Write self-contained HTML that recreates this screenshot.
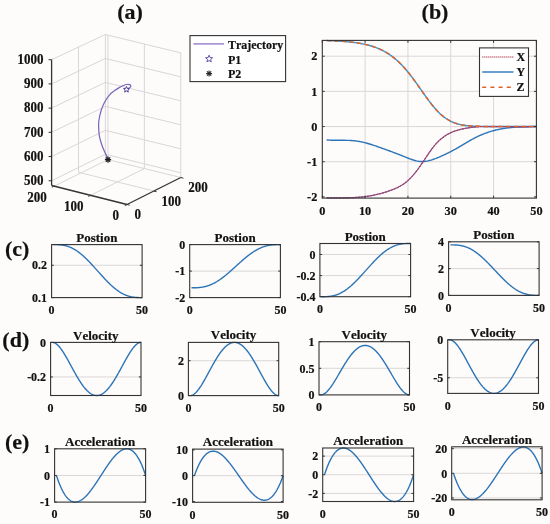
<!DOCTYPE html>
<html><head><meta charset="utf-8"><title>Trajectory figure</title>
<style>html,body{margin:0;padding:0;background:#fdfcfa;}svg{display:block;font-kerning:none;filter:blur(0.3px);}</style>
</head><body>
<svg width="550" height="524" viewBox="0 0 550 524" font-family="'Liberation Serif', 'Times New Roman', serif">
<rect width="550" height="524" fill="#fdfcfa"/>
<line x1="51.6" y1="265.28" x2="142.1" y2="265.28" stroke="#dbd7d7" stroke-width="1"/>
<path d="M53.41 244.6 L53.86 244.6 L54.3 244.6 L54.75 244.6 L55.19 244.6 L55.64 244.61 L56.08 244.61 L56.53 244.62 L56.98 244.63 L57.42 244.65 L57.87 244.66 L58.31 244.68 L58.76 244.71 L59.2 244.73 L59.65 244.77 L60.1 244.8 L60.54 244.84 L60.99 244.89 L61.43 244.94 L61.88 245 L62.32 245.06 L62.77 245.13 L63.21 245.2 L63.66 245.28 L64.11 245.37 L64.55 245.46 L65 245.56 L65.44 245.67 L65.89 245.78 L66.33 245.9 L66.78 246.03 L67.23 246.16 L67.67 246.31 L68.12 246.46 L68.56 246.61 L69.01 246.78 L69.45 246.95 L69.9 247.13 L70.35 247.31 L70.79 247.51 L71.24 247.71 L71.68 247.92 L72.13 248.14 L72.57 248.36 L73.02 248.6 L73.47 248.84 L73.91 249.09 L74.36 249.34 L74.8 249.61 L75.25 249.88 L75.69 250.16 L76.14 250.44 L76.59 250.74 L77.03 251.04 L77.48 251.35 L77.92 251.66 L78.37 251.99 L78.81 252.32 L79.26 252.65 L79.71 253 L80.15 253.35 L80.6 253.71 L81.04 254.07 L81.49 254.44 L81.93 254.82 L82.38 255.2 L82.82 255.59 L83.27 255.99 L83.72 256.39 L84.16 256.8 L84.61 257.21 L85.05 257.63 L85.5 258.05 L85.94 258.48 L86.39 258.91 L86.84 259.35 L87.28 259.79 L87.73 260.24 L88.17 260.69 L88.62 261.15 L89.06 261.61 L89.51 262.07 L89.96 262.54 L90.4 263.01 L90.85 263.48 L91.29 263.96 L91.74 264.44 L92.18 264.92 L92.63 265.41 L93.08 265.9 L93.52 266.38 L93.97 266.88 L94.41 267.37 L94.86 267.86 L95.3 268.36 L95.75 268.86 L96.2 269.35 L96.64 269.85 L97.09 270.35 L97.53 270.85 L97.98 271.35 L98.42 271.85 L98.87 272.35 L99.31 272.85 L99.76 273.34 L100.21 273.84 L100.65 274.34 L101.1 274.83 L101.54 275.32 L101.99 275.82 L102.43 276.3 L102.88 276.79 L103.33 277.28 L103.77 277.76 L104.22 278.24 L104.66 278.72 L105.11 279.19 L105.55 279.66 L106 280.13 L106.45 280.59 L106.89 281.05 L107.34 281.51 L107.78 281.96 L108.23 282.41 L108.67 282.85 L109.12 283.29 L109.57 283.72 L110.01 284.15 L110.46 284.57 L110.9 284.99 L111.35 285.4 L111.79 285.81 L112.24 286.21 L112.69 286.61 L113.13 287 L113.58 287.38 L114.02 287.76 L114.47 288.13 L114.91 288.49 L115.36 288.85 L115.8 289.2 L116.25 289.55 L116.7 289.88 L117.14 290.21 L117.59 290.54 L118.03 290.85 L118.48 291.16 L118.92 291.46 L119.37 291.76 L119.82 292.04 L120.26 292.32 L120.71 292.59 L121.15 292.86 L121.6 293.11 L122.04 293.36 L122.49 293.6 L122.94 293.84 L123.38 294.06 L123.83 294.28 L124.27 294.49 L124.72 294.69 L125.16 294.89 L125.61 295.07 L126.06 295.25 L126.5 295.42 L126.95 295.59 L127.39 295.74 L127.84 295.89 L128.28 296.04 L128.73 296.17 L129.18 296.3 L129.62 296.42 L130.07 296.53 L130.51 296.64 L130.96 296.74 L131.4 296.83 L131.85 296.92 L132.3 297 L132.74 297.07 L133.19 297.14 L133.63 297.2 L134.08 297.26 L134.52 297.31 L134.97 297.36 L135.41 297.4 L135.86 297.43 L136.31 297.47 L136.75 297.49 L137.2 297.52 L137.64 297.54 L138.09 297.55 L138.53 297.57 L138.98 297.58 L139.43 297.59 L139.87 297.59 L140.32 297.6 L140.76 297.6 L141.21 297.6 L141.65 297.6 L142.1 297.6" fill="none" stroke="#2c74b8" stroke-width="1.4" stroke-linejoin="round" />
<rect x="51.6" y="244.6" width="90.5" height="53" fill="none" stroke="#333333" stroke-width="1.1"/>
<line x1="51.6" y1="297.6" x2="53.8" y2="297.6" stroke="#333333" stroke-width="1"/>
<line x1="142.1" y1="297.6" x2="139.9" y2="297.6" stroke="#333333" stroke-width="1"/>
<line x1="51.6" y1="265.28" x2="53.8" y2="265.28" stroke="#333333" stroke-width="1"/>
<line x1="142.1" y1="265.28" x2="139.9" y2="265.28" stroke="#333333" stroke-width="1"/>
<text transform="translate(47.1 301.8) scale(1 1.07)" font-size="12" text-anchor="end" font-weight="bold" fill="#111111" stroke="#111111" stroke-width="0.2" >0.1</text>
<text transform="translate(47.1 269.48) scale(1 1.07)" font-size="12" text-anchor="end" font-weight="bold" fill="#111111" stroke="#111111" stroke-width="0.2" >0.2</text>
<text transform="translate(51.6 313.9) scale(1 1.07)" font-size="12" text-anchor="middle" font-weight="bold" fill="#111111" stroke="#111111" stroke-width="0.2" >0</text>
<text transform="translate(142.1 313.9) scale(1 1.07)" font-size="12" text-anchor="middle" font-weight="bold" fill="#111111" stroke="#111111" stroke-width="0.2" >50</text>
<text transform="translate(96.85 241.9) scale(1 1.0)" font-size="13" text-anchor="middle" font-weight="bold" fill="#111111" stroke="#111111" stroke-width="0.2" >Postion</text>
<line x1="189.7" y1="271.1" x2="280.4" y2="271.1" stroke="#dbd7d7" stroke-width="1"/>
<path d="M191.51 287.8 L191.96 287.79 L192.41 287.79 L192.85 287.79 L193.3 287.79 L193.75 287.79 L194.19 287.78 L194.64 287.78 L195.09 287.77 L195.53 287.76 L195.98 287.74 L196.43 287.73 L196.87 287.71 L197.32 287.69 L197.77 287.66 L198.21 287.63 L198.66 287.6 L199.11 287.56 L199.55 287.52 L200 287.47 L200.45 287.42 L200.89 287.36 L201.34 287.3 L201.79 287.24 L202.23 287.17 L202.68 287.09 L203.13 287.01 L203.57 286.92 L204.02 286.83 L204.47 286.73 L204.91 286.63 L205.36 286.52 L205.81 286.4 L206.25 286.28 L206.7 286.16 L207.15 286.02 L207.59 285.88 L208.04 285.74 L208.49 285.58 L208.93 285.42 L209.38 285.26 L209.83 285.09 L210.27 284.91 L210.72 284.73 L211.17 284.54 L211.61 284.34 L212.06 284.14 L212.51 283.93 L212.95 283.71 L213.4 283.49 L213.85 283.27 L214.29 283.03 L214.74 282.79 L215.19 282.55 L215.63 282.3 L216.08 282.04 L216.53 281.77 L216.97 281.51 L217.42 281.23 L217.87 280.95 L218.31 280.66 L218.76 280.37 L219.21 280.08 L219.65 279.77 L220.1 279.47 L220.55 279.15 L220.99 278.84 L221.44 278.51 L221.89 278.19 L222.33 277.85 L222.78 277.52 L223.23 277.18 L223.67 276.83 L224.12 276.48 L224.57 276.13 L225.01 275.77 L225.46 275.41 L225.91 275.05 L226.35 274.68 L226.8 274.31 L227.25 273.93 L227.69 273.56 L228.14 273.17 L228.59 272.79 L229.03 272.4 L229.48 272.02 L229.93 271.62 L230.37 271.23 L230.82 270.84 L231.27 270.44 L231.71 270.04 L232.16 269.64 L232.61 269.24 L233.05 268.84 L233.5 268.43 L233.95 268.03 L234.39 267.62 L234.84 267.21 L235.29 266.81 L235.73 266.4 L236.18 265.99 L236.63 265.59 L237.07 265.18 L237.52 264.77 L237.97 264.37 L238.41 263.96 L238.86 263.56 L239.31 263.16 L239.75 262.75 L240.2 262.35 L240.65 261.96 L241.09 261.56 L241.54 261.16 L241.99 260.77 L242.43 260.38 L242.88 259.99 L243.33 259.6 L243.77 259.22 L244.22 258.84 L244.67 258.46 L245.11 258.09 L245.56 257.72 L246.01 257.35 L246.45 256.98 L246.9 256.62 L247.35 256.26 L247.79 255.91 L248.24 255.56 L248.69 255.22 L249.13 254.88 L249.58 254.54 L250.03 254.21 L250.47 253.88 L250.92 253.56 L251.37 253.24 L251.81 252.93 L252.26 252.62 L252.71 252.32 L253.15 252.02 L253.6 251.73 L254.05 251.44 L254.49 251.16 L254.94 250.89 L255.39 250.62 L255.83 250.36 L256.28 250.1 L256.73 249.85 L257.17 249.6 L257.62 249.36 L258.07 249.13 L258.51 248.9 L258.96 248.68 L259.41 248.47 L259.85 248.26 L260.3 248.05 L260.75 247.86 L261.19 247.67 L261.64 247.48 L262.09 247.31 L262.53 247.14 L262.98 246.97 L263.43 246.81 L263.87 246.66 L264.32 246.51 L264.77 246.37 L265.21 246.24 L265.66 246.11 L266.11 245.99 L266.55 245.88 L267 245.77 L267.45 245.66 L267.89 245.56 L268.34 245.47 L268.79 245.38 L269.23 245.3 L269.68 245.23 L270.13 245.16 L270.57 245.09 L271.02 245.03 L271.47 244.98 L271.91 244.92 L272.36 244.88 L272.81 244.84 L273.25 244.8 L273.7 244.76 L274.15 244.73 L274.59 244.71 L275.04 244.69 L275.49 244.67 L275.93 244.65 L276.38 244.64 L276.83 244.63 L277.27 244.62 L277.72 244.61 L278.17 244.61 L278.61 244.6 L279.06 244.6 L279.51 244.6 L279.95 244.6 L280.4 244.6" fill="none" stroke="#2c74b8" stroke-width="1.4" stroke-linejoin="round" />
<rect x="189.7" y="244.6" width="90.7" height="53" fill="none" stroke="#333333" stroke-width="1.1"/>
<line x1="189.7" y1="297.6" x2="191.9" y2="297.6" stroke="#333333" stroke-width="1"/>
<line x1="280.4" y1="297.6" x2="278.2" y2="297.6" stroke="#333333" stroke-width="1"/>
<line x1="189.7" y1="271.1" x2="191.9" y2="271.1" stroke="#333333" stroke-width="1"/>
<line x1="280.4" y1="271.1" x2="278.2" y2="271.1" stroke="#333333" stroke-width="1"/>
<line x1="189.7" y1="244.6" x2="191.9" y2="244.6" stroke="#333333" stroke-width="1"/>
<line x1="280.4" y1="244.6" x2="278.2" y2="244.6" stroke="#333333" stroke-width="1"/>
<text transform="translate(185.2 301.8) scale(1 1.07)" font-size="12" text-anchor="end" font-weight="bold" fill="#111111" stroke="#111111" stroke-width="0.2" >-2</text>
<text transform="translate(185.2 275.3) scale(1 1.07)" font-size="12" text-anchor="end" font-weight="bold" fill="#111111" stroke="#111111" stroke-width="0.2" >-1</text>
<text transform="translate(185.2 248.8) scale(1 1.07)" font-size="12" text-anchor="end" font-weight="bold" fill="#111111" stroke="#111111" stroke-width="0.2" >0</text>
<text transform="translate(189.7 313.9) scale(1 1.07)" font-size="12" text-anchor="middle" font-weight="bold" fill="#111111" stroke="#111111" stroke-width="0.2" >0</text>
<text transform="translate(280.4 313.9) scale(1 1.07)" font-size="12" text-anchor="middle" font-weight="bold" fill="#111111" stroke="#111111" stroke-width="0.2" >50</text>
<text transform="translate(235.05 241.9) scale(1 1.0)" font-size="13" text-anchor="middle" font-weight="bold" fill="#111111" stroke="#111111" stroke-width="0.2" >Postion</text>
<line x1="319.9" y1="275.59" x2="410.6" y2="275.59" stroke="#dbd7d7" stroke-width="1"/>
<line x1="319.9" y1="254.48" x2="410.6" y2="254.48" stroke="#dbd7d7" stroke-width="1"/>
<path d="M321.71 296.7 L322.16 296.7 L322.61 296.7 L323.05 296.7 L323.5 296.7 L323.95 296.69 L324.39 296.69 L324.84 296.68 L325.29 296.67 L325.73 296.65 L326.18 296.64 L326.63 296.62 L327.07 296.59 L327.52 296.57 L327.97 296.53 L328.41 296.5 L328.86 296.46 L329.31 296.41 L329.75 296.36 L330.2 296.3 L330.65 296.24 L331.09 296.17 L331.54 296.1 L331.99 296.01 L332.43 295.93 L332.88 295.83 L333.33 295.73 L333.77 295.63 L334.22 295.51 L334.67 295.39 L335.11 295.26 L335.56 295.13 L336.01 294.99 L336.45 294.84 L336.9 294.68 L337.35 294.52 L337.79 294.34 L338.24 294.16 L338.69 293.98 L339.13 293.78 L339.58 293.58 L340.03 293.37 L340.47 293.15 L340.92 292.92 L341.37 292.69 L341.81 292.45 L342.26 292.2 L342.71 291.94 L343.15 291.67 L343.6 291.4 L344.05 291.12 L344.49 290.83 L344.94 290.54 L345.39 290.24 L345.83 289.93 L346.28 289.61 L346.73 289.29 L347.17 288.95 L347.62 288.62 L348.07 288.27 L348.51 287.92 L348.96 287.56 L349.41 287.19 L349.85 286.82 L350.3 286.44 L350.75 286.06 L351.19 285.67 L351.64 285.27 L352.09 284.87 L352.53 284.46 L352.98 284.04 L353.43 283.62 L353.87 283.2 L354.32 282.77 L354.77 282.33 L355.21 281.89 L355.66 281.45 L356.11 281 L356.55 280.55 L357 280.09 L357.45 279.63 L357.89 279.16 L358.34 278.69 L358.79 278.22 L359.23 277.74 L359.68 277.27 L360.13 276.78 L360.57 276.3 L361.02 275.81 L361.47 275.32 L361.91 274.83 L362.36 274.34 L362.81 273.85 L363.25 273.35 L363.7 272.85 L364.15 272.35 L364.59 271.85 L365.04 271.35 L365.49 270.85 L365.93 270.35 L366.38 269.85 L366.83 269.35 L367.27 268.85 L367.72 268.35 L368.17 267.85 L368.61 267.35 L369.06 266.85 L369.51 266.35 L369.95 265.86 L370.4 265.37 L370.85 264.88 L371.29 264.39 L371.74 263.9 L372.19 263.42 L372.63 262.93 L373.08 262.46 L373.53 261.98 L373.97 261.51 L374.42 261.04 L374.87 260.57 L375.31 260.11 L375.76 259.65 L376.21 259.2 L376.65 258.75 L377.1 258.31 L377.55 257.87 L377.99 257.43 L378.44 257 L378.89 256.58 L379.33 256.16 L379.78 255.74 L380.23 255.33 L380.67 254.93 L381.12 254.53 L381.57 254.14 L382.01 253.76 L382.46 253.38 L382.91 253.01 L383.35 252.64 L383.8 252.28 L384.25 251.93 L384.69 251.58 L385.14 251.25 L385.59 250.91 L386.03 250.59 L386.48 250.27 L386.93 249.96 L387.37 249.66 L387.82 249.37 L388.27 249.08 L388.71 248.8 L389.16 248.53 L389.61 248.26 L390.05 248 L390.5 247.75 L390.95 247.51 L391.39 247.28 L391.84 247.05 L392.29 246.83 L392.73 246.62 L393.18 246.42 L393.63 246.22 L394.07 246.04 L394.52 245.86 L394.97 245.68 L395.41 245.52 L395.86 245.36 L396.31 245.21 L396.75 245.07 L397.2 244.94 L397.65 244.81 L398.09 244.69 L398.54 244.57 L398.99 244.47 L399.43 244.37 L399.88 244.27 L400.33 244.19 L400.77 244.1 L401.22 244.03 L401.67 243.96 L402.11 243.9 L402.56 243.84 L403.01 243.79 L403.45 243.74 L403.9 243.7 L404.35 243.67 L404.79 243.63 L405.24 243.61 L405.69 243.58 L406.13 243.56 L406.58 243.55 L407.03 243.53 L407.47 243.52 L407.92 243.51 L408.37 243.51 L408.81 243.5 L409.26 243.5 L409.71 243.5 L410.15 243.5 L410.6 243.5" fill="none" stroke="#2c74b8" stroke-width="1.4" stroke-linejoin="round" />
<rect x="319.9" y="243.5" width="90.7" height="53.2" fill="none" stroke="#333333" stroke-width="1.1"/>
<line x1="319.9" y1="296.7" x2="322.1" y2="296.7" stroke="#333333" stroke-width="1"/>
<line x1="410.6" y1="296.7" x2="408.4" y2="296.7" stroke="#333333" stroke-width="1"/>
<line x1="319.9" y1="275.59" x2="322.1" y2="275.59" stroke="#333333" stroke-width="1"/>
<line x1="410.6" y1="275.59" x2="408.4" y2="275.59" stroke="#333333" stroke-width="1"/>
<line x1="319.9" y1="254.48" x2="322.1" y2="254.48" stroke="#333333" stroke-width="1"/>
<line x1="410.6" y1="254.48" x2="408.4" y2="254.48" stroke="#333333" stroke-width="1"/>
<text transform="translate(315.4 300.9) scale(1 1.07)" font-size="12" text-anchor="end" font-weight="bold" fill="#111111" stroke="#111111" stroke-width="0.2" >-0.4</text>
<text transform="translate(315.4 279.79) scale(1 1.07)" font-size="12" text-anchor="end" font-weight="bold" fill="#111111" stroke="#111111" stroke-width="0.2" >-0.2</text>
<text transform="translate(315.4 258.68) scale(1 1.07)" font-size="12" text-anchor="end" font-weight="bold" fill="#111111" stroke="#111111" stroke-width="0.2" >0</text>
<text transform="translate(319.9 313) scale(1 1.07)" font-size="12" text-anchor="middle" font-weight="bold" fill="#111111" stroke="#111111" stroke-width="0.2" >0</text>
<text transform="translate(410.6 313) scale(1 1.07)" font-size="12" text-anchor="middle" font-weight="bold" fill="#111111" stroke="#111111" stroke-width="0.2" >50</text>
<text transform="translate(365.25 240.9) scale(1 1.0)" font-size="13" text-anchor="middle" font-weight="bold" fill="#111111" stroke="#111111" stroke-width="0.2" >Postion</text>
<line x1="448.6" y1="268.6" x2="539.1" y2="268.6" stroke="#dbd7d7" stroke-width="1"/>
<path d="M450.41 244.88 L450.86 244.88 L451.3 244.88 L451.75 244.88 L452.19 244.89 L452.64 244.89 L453.08 244.9 L453.53 244.9 L453.98 244.91 L454.42 244.93 L454.87 244.94 L455.31 244.96 L455.76 244.98 L456.2 245.01 L456.65 245.04 L457.1 245.07 L457.54 245.11 L457.99 245.16 L458.43 245.21 L458.88 245.26 L459.32 245.32 L459.77 245.39 L460.21 245.46 L460.66 245.53 L461.11 245.62 L461.55 245.7 L462 245.8 L462.44 245.9 L462.89 246.01 L463.33 246.12 L463.78 246.25 L464.23 246.37 L464.67 246.51 L465.12 246.65 L465.56 246.8 L466.01 246.96 L466.45 247.12 L466.9 247.29 L467.35 247.47 L467.79 247.65 L468.24 247.85 L468.68 248.05 L469.13 248.25 L469.57 248.47 L470.02 248.69 L470.47 248.92 L470.91 249.16 L471.36 249.4 L471.8 249.65 L472.25 249.91 L472.69 250.18 L473.14 250.45 L473.59 250.73 L474.03 251.02 L474.48 251.31 L474.92 251.61 L475.37 251.92 L475.81 252.24 L476.26 252.56 L476.71 252.89 L477.15 253.22 L477.6 253.56 L478.04 253.91 L478.49 254.26 L478.93 254.62 L479.38 254.99 L479.82 255.36 L480.27 255.74 L480.72 256.12 L481.16 256.51 L481.61 256.9 L482.05 257.3 L482.5 257.7 L482.94 258.11 L483.39 258.52 L483.84 258.94 L484.28 259.36 L484.73 259.79 L485.17 260.22 L485.62 260.66 L486.06 261.09 L486.51 261.54 L486.96 261.98 L487.4 262.43 L487.85 262.88 L488.29 263.34 L488.74 263.79 L489.18 264.25 L489.63 264.72 L490.08 265.18 L490.52 265.65 L490.97 266.11 L491.41 266.58 L491.86 267.06 L492.3 267.53 L492.75 268 L493.2 268.48 L493.64 268.95 L494.09 269.43 L494.53 269.9 L494.98 270.38 L495.42 270.85 L495.87 271.33 L496.31 271.81 L496.76 272.28 L497.21 272.75 L497.65 273.23 L498.1 273.7 L498.54 274.17 L498.99 274.64 L499.43 275.1 L499.88 275.57 L500.33 276.03 L500.77 276.49 L501.22 276.95 L501.66 277.4 L502.11 277.85 L502.55 278.3 L503 278.75 L503.45 279.19 L503.89 279.63 L504.34 280.06 L504.78 280.49 L505.23 280.92 L505.67 281.34 L506.12 281.76 L506.57 282.17 L507.01 282.58 L507.46 282.98 L507.9 283.38 L508.35 283.77 L508.79 284.16 L509.24 284.55 L509.69 284.92 L510.13 285.29 L510.58 285.66 L511.02 286.02 L511.47 286.37 L511.91 286.72 L512.36 287.06 L512.8 287.4 L513.25 287.72 L513.7 288.04 L514.14 288.36 L514.59 288.67 L515.03 288.97 L515.48 289.26 L515.92 289.55 L516.37 289.83 L516.82 290.1 L517.26 290.37 L517.71 290.63 L518.15 290.88 L518.6 291.12 L519.04 291.36 L519.49 291.59 L519.94 291.81 L520.38 292.03 L520.83 292.23 L521.27 292.43 L521.72 292.63 L522.16 292.81 L522.61 292.99 L523.06 293.16 L523.5 293.33 L523.95 293.48 L524.39 293.63 L524.84 293.77 L525.28 293.91 L525.73 294.04 L526.18 294.16 L526.62 294.27 L527.07 294.38 L527.51 294.48 L527.96 294.58 L528.4 294.67 L528.85 294.75 L529.3 294.83 L529.74 294.9 L530.19 294.96 L530.63 295.02 L531.08 295.08 L531.52 295.12 L531.97 295.17 L532.41 295.21 L532.86 295.24 L533.31 295.27 L533.75 295.3 L534.2 295.32 L534.64 295.34 L535.09 295.36 L535.53 295.37 L535.98 295.38 L536.43 295.39 L536.87 295.39 L537.32 295.4 L537.76 295.4 L538.21 295.4 L538.65 295.4 L539.1 295.4" fill="none" stroke="#2c74b8" stroke-width="1.4" stroke-linejoin="round" />
<rect x="448.6" y="241.8" width="90.5" height="53.6" fill="none" stroke="#333333" stroke-width="1.1"/>
<line x1="448.6" y1="295.4" x2="450.8" y2="295.4" stroke="#333333" stroke-width="1"/>
<line x1="539.1" y1="295.4" x2="536.9" y2="295.4" stroke="#333333" stroke-width="1"/>
<line x1="448.6" y1="268.6" x2="450.8" y2="268.6" stroke="#333333" stroke-width="1"/>
<line x1="539.1" y1="268.6" x2="536.9" y2="268.6" stroke="#333333" stroke-width="1"/>
<line x1="448.6" y1="241.8" x2="450.8" y2="241.8" stroke="#333333" stroke-width="1"/>
<line x1="539.1" y1="241.8" x2="536.9" y2="241.8" stroke="#333333" stroke-width="1"/>
<text transform="translate(444.1 299.6) scale(1 1.07)" font-size="12" text-anchor="end" font-weight="bold" fill="#111111" stroke="#111111" stroke-width="0.2" >0</text>
<text transform="translate(444.1 272.8) scale(1 1.07)" font-size="12" text-anchor="end" font-weight="bold" fill="#111111" stroke="#111111" stroke-width="0.2" >2</text>
<text transform="translate(444.1 246) scale(1 1.07)" font-size="12" text-anchor="end" font-weight="bold" fill="#111111" stroke="#111111" stroke-width="0.2" >4</text>
<text transform="translate(448.6 311.7) scale(1 1.07)" font-size="12" text-anchor="middle" font-weight="bold" fill="#111111" stroke="#111111" stroke-width="0.2" >0</text>
<text transform="translate(539.1 311.7) scale(1 1.07)" font-size="12" text-anchor="middle" font-weight="bold" fill="#111111" stroke="#111111" stroke-width="0.2" >50</text>
<text transform="translate(493.85 239.4) scale(1 1.0)" font-size="13" text-anchor="middle" font-weight="bold" fill="#111111" stroke="#111111" stroke-width="0.2" >Postion</text>
<line x1="50.6" y1="376.94" x2="141" y2="376.94" stroke="#dbd7d7" stroke-width="1"/>
<path d="M52.41 342.4 L52.85 342.42 L53.3 342.48 L53.74 342.59 L54.19 342.73 L54.63 342.91 L55.08 343.13 L55.52 343.38 L55.97 343.66 L56.41 343.98 L56.86 344.34 L57.31 344.72 L57.75 345.13 L58.2 345.57 L58.64 346.03 L59.09 346.53 L59.53 347.04 L59.98 347.59 L60.42 348.15 L60.87 348.74 L61.31 349.34 L61.76 349.97 L62.2 350.61 L62.65 351.28 L63.09 351.96 L63.54 352.65 L63.98 353.36 L64.43 354.08 L64.87 354.82 L65.32 355.57 L65.76 356.33 L66.21 357.09 L66.65 357.87 L67.1 358.66 L67.54 359.45 L67.99 360.25 L68.43 361.05 L68.88 361.86 L69.33 362.68 L69.77 363.49 L70.22 364.31 L70.66 365.13 L71.11 365.96 L71.55 366.78 L72 367.6 L72.44 368.42 L72.89 369.23 L73.33 370.05 L73.78 370.86 L74.22 371.67 L74.67 372.47 L75.11 373.26 L75.56 374.06 L76 374.84 L76.45 375.61 L76.89 376.38 L77.34 377.14 L77.78 377.89 L78.23 378.63 L78.67 379.36 L79.12 380.08 L79.56 380.79 L80.01 381.49 L80.45 382.17 L80.9 382.84 L81.35 383.5 L81.79 384.14 L82.24 384.77 L82.68 385.39 L83.13 385.99 L83.57 386.58 L84.02 387.14 L84.46 387.7 L84.91 388.23 L85.35 388.75 L85.8 389.26 L86.24 389.74 L86.69 390.21 L87.13 390.66 L87.58 391.09 L88.02 391.5 L88.47 391.89 L88.91 392.27 L89.36 392.62 L89.8 392.95 L90.25 393.27 L90.69 393.56 L91.14 393.84 L91.58 394.09 L92.03 394.32 L92.47 394.54 L92.92 394.73 L93.37 394.9 L93.81 395.05 L94.26 395.18 L94.7 395.28 L95.15 395.37 L95.59 395.43 L96.04 395.48 L96.48 395.5 L96.93 395.5 L97.37 395.48 L97.82 395.43 L98.26 395.37 L98.71 395.28 L99.15 395.18 L99.6 395.05 L100.04 394.9 L100.49 394.73 L100.93 394.54 L101.38 394.32 L101.82 394.09 L102.27 393.84 L102.71 393.56 L103.16 393.27 L103.6 392.95 L104.05 392.62 L104.49 392.27 L104.94 391.89 L105.39 391.5 L105.83 391.09 L106.28 390.66 L106.72 390.21 L107.17 389.74 L107.61 389.26 L108.06 388.75 L108.5 388.23 L108.95 387.7 L109.39 387.14 L109.84 386.58 L110.28 385.99 L110.73 385.39 L111.17 384.77 L111.62 384.14 L112.06 383.5 L112.51 382.84 L112.95 382.17 L113.4 381.49 L113.84 380.79 L114.29 380.08 L114.73 379.36 L115.18 378.63 L115.62 377.89 L116.07 377.14 L116.51 376.38 L116.96 375.61 L117.41 374.84 L117.85 374.06 L118.3 373.26 L118.74 372.47 L119.19 371.67 L119.63 370.86 L120.08 370.05 L120.52 369.23 L120.97 368.42 L121.41 367.6 L121.86 366.78 L122.3 365.96 L122.75 365.13 L123.19 364.31 L123.64 363.49 L124.08 362.68 L124.53 361.86 L124.97 361.05 L125.42 360.25 L125.86 359.45 L126.31 358.66 L126.75 357.87 L127.2 357.09 L127.64 356.33 L128.09 355.57 L128.53 354.82 L128.98 354.08 L129.43 353.36 L129.87 352.65 L130.32 351.96 L130.76 351.28 L131.21 350.61 L131.65 349.97 L132.1 349.34 L132.54 348.74 L132.99 348.15 L133.43 347.59 L133.88 347.04 L134.32 346.53 L134.77 346.03 L135.21 345.57 L135.66 345.13 L136.1 344.72 L136.55 344.34 L136.99 343.98 L137.44 343.66 L137.88 343.38 L138.33 343.13 L138.77 342.91 L139.22 342.73 L139.66 342.59 L140.11 342.48 L140.55 342.42 L141 342.4" fill="none" stroke="#2c74b8" stroke-width="1.4" stroke-linejoin="round" />
<rect x="50.6" y="342.4" width="90.4" height="53.1" fill="none" stroke="#333333" stroke-width="1.1"/>
<line x1="50.6" y1="376.94" x2="52.8" y2="376.94" stroke="#333333" stroke-width="1"/>
<line x1="141" y1="376.94" x2="138.8" y2="376.94" stroke="#333333" stroke-width="1"/>
<line x1="50.6" y1="342.4" x2="52.8" y2="342.4" stroke="#333333" stroke-width="1"/>
<line x1="141" y1="342.4" x2="138.8" y2="342.4" stroke="#333333" stroke-width="1"/>
<text transform="translate(46.1 381.14) scale(1 1.07)" font-size="12" text-anchor="end" font-weight="bold" fill="#111111" stroke="#111111" stroke-width="0.2" >-0.2</text>
<text transform="translate(46.1 346.6) scale(1 1.07)" font-size="12" text-anchor="end" font-weight="bold" fill="#111111" stroke="#111111" stroke-width="0.2" >0</text>
<text transform="translate(50.6 411.8) scale(1 1.07)" font-size="12" text-anchor="middle" font-weight="bold" fill="#111111" stroke="#111111" stroke-width="0.2" >0</text>
<text transform="translate(141 411.8) scale(1 1.07)" font-size="12" text-anchor="middle" font-weight="bold" fill="#111111" stroke="#111111" stroke-width="0.2" >50</text>
<text transform="translate(95.8 339.9) scale(1 1.0)" font-size="13" text-anchor="middle" font-weight="bold" fill="#111111" stroke="#111111" stroke-width="0.2" >Velocity</text>
<line x1="188.4" y1="360.71" x2="278.7" y2="360.71" stroke="#dbd7d7" stroke-width="1"/>
<path d="M190.21 395.6 L190.65 395.58 L191.1 395.52 L191.54 395.41 L191.98 395.27 L192.43 395.09 L192.87 394.87 L193.32 394.62 L193.76 394.33 L194.21 394.01 L194.65 393.66 L195.1 393.28 L195.54 392.87 L195.99 392.43 L196.43 391.96 L196.88 391.47 L197.32 390.95 L197.77 390.4 L198.21 389.84 L198.66 389.25 L199.1 388.64 L199.54 388.02 L199.99 387.37 L200.43 386.71 L200.88 386.03 L201.32 385.33 L201.77 384.62 L202.21 383.89 L202.66 383.16 L203.1 382.41 L203.55 381.65 L203.99 380.88 L204.44 380.1 L204.88 379.31 L205.33 378.52 L205.77 377.72 L206.21 376.91 L206.66 376.1 L207.1 375.28 L207.55 374.47 L207.99 373.64 L208.44 372.82 L208.88 372 L209.33 371.18 L209.77 370.35 L210.22 369.53 L210.66 368.71 L211.11 367.9 L211.55 367.09 L212 366.28 L212.44 365.47 L212.89 364.68 L213.33 363.89 L213.77 363.1 L214.22 362.32 L214.66 361.55 L215.11 360.79 L215.55 360.04 L216 359.3 L216.44 358.57 L216.89 357.85 L217.33 357.14 L217.78 356.44 L218.22 355.75 L218.67 355.08 L219.11 354.42 L219.56 353.78 L220 353.15 L220.45 352.53 L220.89 351.93 L221.33 351.34 L221.78 350.77 L222.22 350.22 L222.67 349.68 L223.11 349.16 L223.56 348.66 L224 348.17 L224.45 347.7 L224.89 347.25 L225.34 346.82 L225.78 346.41 L226.23 346.01 L226.67 345.64 L227.12 345.29 L227.56 344.95 L228 344.64 L228.45 344.34 L228.89 344.07 L229.34 343.81 L229.78 343.58 L230.23 343.37 L230.67 343.17 L231.12 343 L231.56 342.85 L232.01 342.72 L232.45 342.62 L232.9 342.53 L233.34 342.47 L233.79 342.42 L234.23 342.4 L234.68 342.4 L235.12 342.42 L235.56 342.47 L236.01 342.53 L236.45 342.62 L236.9 342.72 L237.34 342.85 L237.79 343 L238.23 343.17 L238.68 343.37 L239.12 343.58 L239.57 343.81 L240.01 344.07 L240.46 344.34 L240.9 344.64 L241.35 344.95 L241.79 345.29 L242.24 345.64 L242.68 346.01 L243.12 346.41 L243.57 346.82 L244.01 347.25 L244.46 347.7 L244.9 348.17 L245.35 348.66 L245.79 349.16 L246.24 349.68 L246.68 350.22 L247.13 350.77 L247.57 351.34 L248.02 351.93 L248.46 352.53 L248.91 353.15 L249.35 353.78 L249.79 354.42 L250.24 355.08 L250.68 355.75 L251.13 356.44 L251.57 357.14 L252.02 357.85 L252.46 358.57 L252.91 359.3 L253.35 360.04 L253.8 360.79 L254.24 361.55 L254.69 362.32 L255.13 363.1 L255.58 363.89 L256.02 364.68 L256.47 365.47 L256.91 366.28 L257.35 367.09 L257.8 367.9 L258.24 368.71 L258.69 369.53 L259.13 370.35 L259.58 371.18 L260.02 372 L260.47 372.82 L260.91 373.64 L261.36 374.47 L261.8 375.28 L262.25 376.1 L262.69 376.91 L263.14 377.72 L263.58 378.52 L264.03 379.31 L264.47 380.1 L264.91 380.88 L265.36 381.65 L265.8 382.41 L266.25 383.16 L266.69 383.89 L267.14 384.62 L267.58 385.33 L268.03 386.03 L268.47 386.71 L268.92 387.37 L269.36 388.02 L269.81 388.64 L270.25 389.25 L270.7 389.84 L271.14 390.4 L271.58 390.95 L272.03 391.47 L272.47 391.96 L272.92 392.43 L273.36 392.87 L273.81 393.28 L274.25 393.66 L274.7 394.01 L275.14 394.33 L275.59 394.62 L276.03 394.87 L276.48 395.09 L276.92 395.27 L277.37 395.41 L277.81 395.52 L278.26 395.58 L278.7 395.6" fill="none" stroke="#2c74b8" stroke-width="1.4" stroke-linejoin="round" />
<rect x="188.4" y="342.4" width="90.3" height="53.2" fill="none" stroke="#333333" stroke-width="1.1"/>
<line x1="188.4" y1="395.6" x2="190.6" y2="395.6" stroke="#333333" stroke-width="1"/>
<line x1="278.7" y1="395.6" x2="276.5" y2="395.6" stroke="#333333" stroke-width="1"/>
<line x1="188.4" y1="360.71" x2="190.6" y2="360.71" stroke="#333333" stroke-width="1"/>
<line x1="278.7" y1="360.71" x2="276.5" y2="360.71" stroke="#333333" stroke-width="1"/>
<text transform="translate(183.9 399.8) scale(1 1.07)" font-size="12" text-anchor="end" font-weight="bold" fill="#111111" stroke="#111111" stroke-width="0.2" >0</text>
<text transform="translate(183.9 364.91) scale(1 1.07)" font-size="12" text-anchor="end" font-weight="bold" fill="#111111" stroke="#111111" stroke-width="0.2" >2</text>
<text transform="translate(188.4 411.9) scale(1 1.07)" font-size="12" text-anchor="middle" font-weight="bold" fill="#111111" stroke="#111111" stroke-width="0.2" >0</text>
<text transform="translate(278.7 411.9) scale(1 1.07)" font-size="12" text-anchor="middle" font-weight="bold" fill="#111111" stroke="#111111" stroke-width="0.2" >50</text>
<text transform="translate(233.55 339.1) scale(1 1.0)" font-size="13" text-anchor="middle" font-weight="bold" fill="#111111" stroke="#111111" stroke-width="0.2" >Velocity</text>
<line x1="319" y1="368.3" x2="409.5" y2="368.3" stroke="#dbd7d7" stroke-width="1"/>
<path d="M320.81 394.9 L321.26 394.88 L321.7 394.82 L322.15 394.73 L322.59 394.59 L323.04 394.43 L323.48 394.22 L323.93 393.99 L324.38 393.72 L324.82 393.42 L325.27 393.1 L325.71 392.74 L326.16 392.36 L326.6 391.95 L327.05 391.51 L327.5 391.05 L327.94 390.57 L328.39 390.07 L328.83 389.54 L329.28 389 L329.72 388.43 L330.17 387.85 L330.61 387.25 L331.06 386.63 L331.51 386 L331.95 385.35 L332.4 384.69 L332.84 384.01 L333.29 383.33 L333.73 382.63 L334.18 381.92 L334.63 381.21 L335.07 380.48 L335.52 379.75 L335.96 379.01 L336.41 378.27 L336.85 377.52 L337.3 376.76 L337.75 376.01 L338.19 375.25 L338.64 374.48 L339.08 373.72 L339.53 372.95 L339.97 372.19 L340.42 371.42 L340.87 370.66 L341.31 369.9 L341.76 369.14 L342.2 368.38 L342.65 367.63 L343.09 366.88 L343.54 366.14 L343.99 365.41 L344.43 364.68 L344.88 363.95 L345.32 363.24 L345.77 362.53 L346.21 361.83 L346.66 361.14 L347.11 360.46 L347.55 359.79 L348 359.13 L348.44 358.48 L348.89 357.84 L349.33 357.22 L349.78 356.61 L350.22 356.01 L350.67 355.42 L351.12 354.84 L351.56 354.28 L352.01 353.74 L352.45 353.21 L352.9 352.69 L353.34 352.19 L353.79 351.71 L354.24 351.24 L354.68 350.79 L355.13 350.35 L355.57 349.94 L356.02 349.54 L356.46 349.15 L356.91 348.79 L357.36 348.44 L357.8 348.11 L358.25 347.8 L358.69 347.5 L359.14 347.23 L359.58 346.97 L360.03 346.74 L360.48 346.52 L360.92 346.32 L361.37 346.14 L361.81 345.98 L362.26 345.85 L362.7 345.73 L363.15 345.63 L363.6 345.55 L364.04 345.49 L364.49 345.45 L364.93 345.43 L365.38 345.43 L365.82 345.45 L366.27 345.49 L366.71 345.55 L367.16 345.63 L367.61 345.73 L368.05 345.85 L368.5 345.98 L368.94 346.14 L369.39 346.32 L369.83 346.52 L370.28 346.74 L370.73 346.97 L371.17 347.23 L371.62 347.5 L372.06 347.8 L372.51 348.11 L372.95 348.44 L373.4 348.79 L373.85 349.15 L374.29 349.54 L374.74 349.94 L375.18 350.35 L375.63 350.79 L376.07 351.24 L376.52 351.71 L376.97 352.19 L377.41 352.69 L377.86 353.21 L378.3 353.74 L378.75 354.28 L379.19 354.84 L379.64 355.42 L380.09 356.01 L380.53 356.61 L380.98 357.22 L381.42 357.84 L381.87 358.48 L382.31 359.13 L382.76 359.79 L383.2 360.46 L383.65 361.14 L384.1 361.83 L384.54 362.53 L384.99 363.24 L385.43 363.95 L385.88 364.68 L386.32 365.41 L386.77 366.14 L387.22 366.88 L387.66 367.63 L388.11 368.38 L388.55 369.14 L389 369.9 L389.44 370.66 L389.89 371.42 L390.34 372.19 L390.78 372.95 L391.23 373.72 L391.67 374.48 L392.12 375.25 L392.56 376.01 L393.01 376.76 L393.46 377.52 L393.9 378.27 L394.35 379.01 L394.79 379.75 L395.24 380.48 L395.68 381.21 L396.13 381.92 L396.58 382.63 L397.02 383.33 L397.47 384.01 L397.91 384.69 L398.36 385.35 L398.8 386 L399.25 386.63 L399.7 387.25 L400.14 387.85 L400.59 388.43 L401.03 389 L401.48 389.54 L401.92 390.07 L402.37 390.57 L402.81 391.05 L403.26 391.51 L403.71 391.95 L404.15 392.36 L404.6 392.74 L405.04 393.1 L405.49 393.42 L405.93 393.72 L406.38 393.99 L406.83 394.22 L407.27 394.43 L407.72 394.59 L408.16 394.73 L408.61 394.82 L409.05 394.88 L409.5 394.9" fill="none" stroke="#2c74b8" stroke-width="1.4" stroke-linejoin="round" />
<rect x="319" y="341.7" width="90.5" height="53.2" fill="none" stroke="#333333" stroke-width="1.1"/>
<line x1="319" y1="394.9" x2="321.2" y2="394.9" stroke="#333333" stroke-width="1"/>
<line x1="409.5" y1="394.9" x2="407.3" y2="394.9" stroke="#333333" stroke-width="1"/>
<line x1="319" y1="368.3" x2="321.2" y2="368.3" stroke="#333333" stroke-width="1"/>
<line x1="409.5" y1="368.3" x2="407.3" y2="368.3" stroke="#333333" stroke-width="1"/>
<line x1="319" y1="341.7" x2="321.2" y2="341.7" stroke="#333333" stroke-width="1"/>
<line x1="409.5" y1="341.7" x2="407.3" y2="341.7" stroke="#333333" stroke-width="1"/>
<text transform="translate(314.5 399.1) scale(1 1.07)" font-size="12" text-anchor="end" font-weight="bold" fill="#111111" stroke="#111111" stroke-width="0.2" >0</text>
<text transform="translate(314.5 372.5) scale(1 1.07)" font-size="12" text-anchor="end" font-weight="bold" fill="#111111" stroke="#111111" stroke-width="0.2" >0.5</text>
<text transform="translate(314.5 345.9) scale(1 1.07)" font-size="12" text-anchor="end" font-weight="bold" fill="#111111" stroke="#111111" stroke-width="0.2" >1</text>
<text transform="translate(319 411.2) scale(1 1.07)" font-size="12" text-anchor="middle" font-weight="bold" fill="#111111" stroke="#111111" stroke-width="0.2" >0</text>
<text transform="translate(409.5 411.2) scale(1 1.07)" font-size="12" text-anchor="middle" font-weight="bold" fill="#111111" stroke="#111111" stroke-width="0.2" >50</text>
<text transform="translate(364.25 338.6) scale(1 1.0)" font-size="13" text-anchor="middle" font-weight="bold" fill="#111111" stroke="#111111" stroke-width="0.2" >Velocity</text>
<line x1="447.7" y1="377.76" x2="538.5" y2="377.76" stroke="#dbd7d7" stroke-width="1"/>
<path d="M449.52 339.8 L449.96 339.82 L450.41 339.88 L450.86 339.99 L451.3 340.13 L451.75 340.31 L452.2 340.53 L452.65 340.79 L453.09 341.08 L453.54 341.4 L453.99 341.75 L454.43 342.14 L454.88 342.55 L455.33 343 L455.78 343.47 L456.22 343.97 L456.67 344.49 L457.12 345.03 L457.56 345.6 L458.01 346.2 L458.46 346.81 L458.91 347.44 L459.35 348.09 L459.8 348.76 L460.25 349.45 L460.69 350.15 L461.14 350.86 L461.59 351.59 L462.04 352.34 L462.48 353.09 L462.93 353.86 L463.38 354.63 L463.82 355.42 L464.27 356.21 L464.72 357.01 L465.17 357.82 L465.61 358.63 L466.06 359.45 L466.51 360.27 L466.96 361.09 L467.4 361.92 L467.85 362.75 L468.3 363.58 L468.74 364.41 L469.19 365.24 L469.64 366.06 L470.09 366.89 L470.53 367.71 L470.98 368.53 L471.43 369.34 L471.87 370.15 L472.32 370.96 L472.77 371.75 L473.22 372.54 L473.66 373.33 L474.11 374.1 L474.56 374.87 L475 375.63 L475.45 376.37 L475.9 377.11 L476.35 377.84 L476.79 378.55 L477.24 379.25 L477.69 379.94 L478.13 380.62 L478.58 381.29 L479.03 381.94 L479.48 382.57 L479.92 383.19 L480.37 383.8 L480.82 384.39 L481.26 384.97 L481.71 385.52 L482.16 386.07 L482.61 386.59 L483.05 387.1 L483.5 387.59 L483.95 388.06 L484.39 388.51 L484.84 388.95 L485.29 389.36 L485.74 389.76 L486.18 390.14 L486.63 390.49 L487.08 390.83 L487.52 391.15 L487.97 391.44 L488.42 391.72 L488.87 391.98 L489.31 392.21 L489.76 392.43 L490.21 392.62 L490.65 392.79 L491.1 392.94 L491.55 393.07 L492 393.18 L492.44 393.27 L492.89 393.33 L493.34 393.38 L493.78 393.4 L494.23 393.4 L494.68 393.38 L495.13 393.33 L495.57 393.27 L496.02 393.18 L496.47 393.07 L496.91 392.94 L497.36 392.79 L497.81 392.62 L498.26 392.43 L498.7 392.21 L499.15 391.98 L499.6 391.72 L500.04 391.44 L500.49 391.15 L500.94 390.83 L501.39 390.49 L501.83 390.14 L502.28 389.76 L502.73 389.36 L503.17 388.95 L503.62 388.51 L504.07 388.06 L504.52 387.59 L504.96 387.1 L505.41 386.59 L505.86 386.07 L506.3 385.52 L506.75 384.97 L507.2 384.39 L507.65 383.8 L508.09 383.19 L508.54 382.57 L508.99 381.94 L509.43 381.29 L509.88 380.62 L510.33 379.94 L510.78 379.25 L511.22 378.55 L511.67 377.84 L512.12 377.11 L512.56 376.37 L513.01 375.63 L513.46 374.87 L513.91 374.1 L514.35 373.33 L514.8 372.54 L515.25 371.75 L515.7 370.96 L516.14 370.15 L516.59 369.34 L517.04 368.53 L517.48 367.71 L517.93 366.89 L518.38 366.06 L518.83 365.24 L519.27 364.41 L519.72 363.58 L520.17 362.75 L520.61 361.92 L521.06 361.09 L521.51 360.27 L521.96 359.45 L522.4 358.63 L522.85 357.82 L523.3 357.01 L523.74 356.21 L524.19 355.42 L524.64 354.63 L525.09 353.86 L525.53 353.09 L525.98 352.34 L526.43 351.59 L526.87 350.86 L527.32 350.15 L527.77 349.45 L528.22 348.76 L528.66 348.09 L529.11 347.44 L529.56 346.81 L530 346.2 L530.45 345.6 L530.9 345.03 L531.35 344.49 L531.79 343.97 L532.24 343.47 L532.69 343 L533.13 342.55 L533.58 342.14 L534.03 341.75 L534.48 341.4 L534.92 341.08 L535.37 340.79 L535.82 340.53 L536.26 340.31 L536.71 340.13 L537.16 339.99 L537.61 339.88 L538.05 339.82 L538.5 339.8" fill="none" stroke="#2c74b8" stroke-width="1.4" stroke-linejoin="round" />
<rect x="447.7" y="339.8" width="90.8" height="53.6" fill="none" stroke="#333333" stroke-width="1.1"/>
<line x1="447.7" y1="377.76" x2="449.9" y2="377.76" stroke="#333333" stroke-width="1"/>
<line x1="538.5" y1="377.76" x2="536.3" y2="377.76" stroke="#333333" stroke-width="1"/>
<line x1="447.7" y1="339.8" x2="449.9" y2="339.8" stroke="#333333" stroke-width="1"/>
<line x1="538.5" y1="339.8" x2="536.3" y2="339.8" stroke="#333333" stroke-width="1"/>
<text transform="translate(443.2 381.96) scale(1 1.07)" font-size="12" text-anchor="end" font-weight="bold" fill="#111111" stroke="#111111" stroke-width="0.2" >-5</text>
<text transform="translate(443.2 344) scale(1 1.07)" font-size="12" text-anchor="end" font-weight="bold" fill="#111111" stroke="#111111" stroke-width="0.2" >0</text>
<text transform="translate(447.7 409.7) scale(1 1.07)" font-size="12" text-anchor="middle" font-weight="bold" fill="#111111" stroke="#111111" stroke-width="0.2" >0</text>
<text transform="translate(538.5 409.7) scale(1 1.07)" font-size="12" text-anchor="middle" font-weight="bold" fill="#111111" stroke="#111111" stroke-width="0.2" >50</text>
<text transform="translate(493.1 337.2) scale(1 1.0)" font-size="13" text-anchor="middle" font-weight="bold" fill="#111111" stroke="#111111" stroke-width="0.2" >Velocity</text>
<line x1="54.6" y1="475.45" x2="145.6" y2="475.45" stroke="#dbd7d7" stroke-width="1"/>
<path d="M56.42 475.45 L56.87 476.82 L57.32 478.15 L57.76 479.44 L58.21 480.69 L58.66 481.89 L59.11 483.06 L59.56 484.19 L60.01 485.28 L60.45 486.33 L60.9 487.34 L61.35 488.31 L61.8 489.25 L62.25 490.15 L62.69 491.01 L63.14 491.84 L63.59 492.63 L64.04 493.39 L64.49 494.11 L64.93 494.8 L65.38 495.45 L65.83 496.07 L66.28 496.66 L66.73 497.22 L67.18 497.74 L67.62 498.23 L68.07 498.69 L68.52 499.12 L68.97 499.51 L69.42 499.88 L69.86 500.22 L70.31 500.53 L70.76 500.8 L71.21 501.05 L71.66 501.28 L72.1 501.47 L72.55 501.64 L73 501.78 L73.45 501.9 L73.9 501.99 L74.35 502.05 L74.79 502.09 L75.24 502.1 L75.69 502.09 L76.14 502.05 L76.59 502 L77.03 501.92 L77.48 501.81 L77.93 501.69 L78.38 501.54 L78.83 501.37 L79.28 501.18 L79.72 500.97 L80.17 500.74 L80.62 500.49 L81.07 500.22 L81.52 499.93 L81.96 499.63 L82.41 499.3 L82.86 498.96 L83.31 498.6 L83.76 498.23 L84.2 497.84 L84.65 497.43 L85.1 497.01 L85.55 496.57 L86 496.12 L86.45 495.65 L86.89 495.17 L87.34 494.68 L87.79 494.17 L88.24 493.66 L88.69 493.12 L89.13 492.58 L89.58 492.03 L90.03 491.47 L90.48 490.89 L90.93 490.31 L91.37 489.71 L91.82 489.11 L92.27 488.5 L92.72 487.88 L93.17 487.25 L93.62 486.62 L94.06 485.97 L94.51 485.33 L94.96 484.67 L95.41 484.01 L95.86 483.35 L96.3 482.68 L96.75 482 L97.2 481.32 L97.65 480.64 L98.1 479.95 L98.55 479.27 L98.99 478.57 L99.44 477.88 L99.89 477.19 L100.34 476.49 L100.79 475.8 L101.23 475.1 L101.68 474.41 L102.13 473.71 L102.58 473.02 L103.03 472.33 L103.47 471.63 L103.92 470.95 L104.37 470.26 L104.82 469.58 L105.27 468.9 L105.72 468.22 L106.16 467.55 L106.61 466.89 L107.06 466.23 L107.51 465.57 L107.96 464.93 L108.4 464.28 L108.85 463.65 L109.3 463.02 L109.75 462.4 L110.2 461.79 L110.65 461.19 L111.09 460.59 L111.54 460.01 L111.99 459.43 L112.44 458.87 L112.89 458.32 L113.33 457.78 L113.78 457.24 L114.23 456.73 L114.68 456.22 L115.13 455.73 L115.57 455.25 L116.02 454.78 L116.47 454.33 L116.92 453.89 L117.37 453.47 L117.82 453.06 L118.26 452.67 L118.71 452.3 L119.16 451.94 L119.61 451.6 L120.06 451.27 L120.5 450.97 L120.95 450.68 L121.4 450.41 L121.85 450.16 L122.3 449.93 L122.74 449.72 L123.19 449.53 L123.64 449.36 L124.09 449.21 L124.54 449.09 L124.99 448.98 L125.43 448.9 L125.88 448.85 L126.33 448.81 L126.78 448.8 L127.23 448.81 L127.67 448.85 L128.12 448.91 L128.57 449 L129.02 449.12 L129.47 449.26 L129.92 449.43 L130.36 449.62 L130.81 449.85 L131.26 450.1 L131.71 450.37 L132.16 450.68 L132.6 451.02 L133.05 451.39 L133.5 451.78 L133.95 452.21 L134.4 452.67 L134.84 453.16 L135.29 453.68 L135.74 454.24 L136.19 454.83 L136.64 455.45 L137.09 456.1 L137.53 456.79 L137.98 457.51 L138.43 458.27 L138.88 459.06 L139.33 459.89 L139.77 460.75 L140.22 461.65 L140.67 462.59 L141.12 463.56 L141.57 464.57 L142.01 465.62 L142.46 466.71 L142.91 467.84 L143.36 469.01 L143.81 470.21 L144.26 471.46 L144.7 472.75 L145.15 474.08 L145.6 475.45" fill="none" stroke="#2c74b8" stroke-width="1.4" stroke-linejoin="round" />
<rect x="54.6" y="448.8" width="91" height="53.3" fill="none" stroke="#333333" stroke-width="1.1"/>
<line x1="54.6" y1="502.1" x2="56.8" y2="502.1" stroke="#333333" stroke-width="1"/>
<line x1="145.6" y1="502.1" x2="143.4" y2="502.1" stroke="#333333" stroke-width="1"/>
<line x1="54.6" y1="475.45" x2="56.8" y2="475.45" stroke="#333333" stroke-width="1"/>
<line x1="145.6" y1="475.45" x2="143.4" y2="475.45" stroke="#333333" stroke-width="1"/>
<line x1="54.6" y1="448.8" x2="56.8" y2="448.8" stroke="#333333" stroke-width="1"/>
<line x1="145.6" y1="448.8" x2="143.4" y2="448.8" stroke="#333333" stroke-width="1"/>
<text transform="translate(50.1 506.3) scale(1 1.07)" font-size="12" text-anchor="end" font-weight="bold" fill="#111111" stroke="#111111" stroke-width="0.2" >-1</text>
<text transform="translate(50.1 479.65) scale(1 1.07)" font-size="12" text-anchor="end" font-weight="bold" fill="#111111" stroke="#111111" stroke-width="0.2" >0</text>
<text transform="translate(50.1 453) scale(1 1.07)" font-size="12" text-anchor="end" font-weight="bold" fill="#111111" stroke="#111111" stroke-width="0.2" >1</text>
<text transform="translate(54.6 518.4) scale(1 1.07)" font-size="12" text-anchor="middle" font-weight="bold" fill="#111111" stroke="#111111" stroke-width="0.2" >0</text>
<text transform="translate(145.6 518.4) scale(1 1.07)" font-size="12" text-anchor="middle" font-weight="bold" fill="#111111" stroke="#111111" stroke-width="0.2" >50</text>
<text transform="translate(100.1 445.9) scale(1 1.0)" font-size="13" text-anchor="middle" font-weight="bold" fill="#111111" stroke="#111111" stroke-width="0.2" >Acceleration</text>
<line x1="192.6" y1="475.7" x2="283.1" y2="475.7" stroke="#dbd7d7" stroke-width="1"/>
<path d="M194.41 475.7 L194.86 474.44 L195.3 473.21 L195.75 472.03 L196.19 470.88 L196.64 469.77 L197.08 468.69 L197.53 467.66 L197.98 466.65 L198.42 465.69 L198.87 464.75 L199.31 463.86 L199.76 462.99 L200.2 462.17 L200.65 461.37 L201.1 460.61 L201.54 459.88 L201.99 459.18 L202.43 458.52 L202.88 457.89 L203.32 457.28 L203.77 456.71 L204.21 456.17 L204.66 455.66 L205.11 455.18 L205.55 454.73 L206 454.31 L206.44 453.91 L206.89 453.55 L207.33 453.21 L207.78 452.9 L208.23 452.62 L208.67 452.36 L209.12 452.13 L209.56 451.92 L210.01 451.74 L210.45 451.59 L210.9 451.46 L211.35 451.35 L211.79 451.27 L212.24 451.21 L212.68 451.18 L213.13 451.17 L213.57 451.18 L214.02 451.21 L214.47 451.26 L214.91 451.34 L215.36 451.43 L215.8 451.55 L216.25 451.68 L216.69 451.84 L217.14 452.01 L217.59 452.21 L218.03 452.42 L218.48 452.65 L218.92 452.89 L219.37 453.16 L219.81 453.44 L220.26 453.74 L220.71 454.05 L221.15 454.38 L221.6 454.73 L222.04 455.09 L222.49 455.46 L222.93 455.85 L223.38 456.26 L223.82 456.67 L224.27 457.1 L224.72 457.54 L225.16 458 L225.61 458.46 L226.05 458.94 L226.5 459.43 L226.94 459.93 L227.39 460.44 L227.84 460.96 L228.28 461.49 L228.73 462.02 L229.17 462.57 L229.62 463.12 L230.06 463.69 L230.51 464.26 L230.96 464.84 L231.4 465.42 L231.85 466.01 L232.29 466.61 L232.74 467.21 L233.18 467.82 L233.63 468.43 L234.08 469.05 L234.52 469.67 L234.97 470.29 L235.41 470.92 L235.86 471.55 L236.3 472.19 L236.75 472.82 L237.2 473.46 L237.64 474.1 L238.09 474.74 L238.53 475.38 L238.98 476.02 L239.42 476.66 L239.87 477.3 L240.31 477.94 L240.76 478.58 L241.21 479.21 L241.65 479.85 L242.1 480.48 L242.54 481.11 L242.99 481.73 L243.43 482.35 L243.88 482.97 L244.33 483.58 L244.77 484.19 L245.22 484.79 L245.66 485.39 L246.11 485.98 L246.55 486.56 L247 487.14 L247.45 487.71 L247.89 488.28 L248.34 488.83 L248.78 489.38 L249.23 489.91 L249.67 490.44 L250.12 490.96 L250.57 491.47 L251.01 491.97 L251.46 492.46 L251.9 492.94 L252.35 493.4 L252.79 493.86 L253.24 494.3 L253.69 494.73 L254.13 495.14 L254.58 495.55 L255.02 495.94 L255.47 496.31 L255.91 496.67 L256.36 497.02 L256.8 497.35 L257.25 497.66 L257.7 497.96 L258.14 498.24 L258.59 498.51 L259.03 498.75 L259.48 498.98 L259.92 499.19 L260.37 499.39 L260.82 499.56 L261.26 499.72 L261.71 499.85 L262.15 499.97 L262.6 500.06 L263.04 500.14 L263.49 500.19 L263.94 500.22 L264.38 500.23 L264.83 500.22 L265.27 500.19 L265.72 500.13 L266.16 500.05 L266.61 499.94 L267.06 499.81 L267.5 499.66 L267.95 499.48 L268.39 499.27 L268.84 499.04 L269.28 498.78 L269.73 498.5 L270.18 498.19 L270.62 497.85 L271.07 497.49 L271.51 497.09 L271.96 496.67 L272.4 496.22 L272.85 495.74 L273.3 495.23 L273.74 494.69 L274.19 494.12 L274.63 493.51 L275.08 492.88 L275.52 492.22 L275.97 491.52 L276.41 490.79 L276.86 490.03 L277.31 489.23 L277.75 488.41 L278.2 487.54 L278.64 486.65 L279.09 485.71 L279.53 484.75 L279.98 483.74 L280.43 482.71 L280.87 481.63 L281.32 480.52 L281.76 479.37 L282.21 478.19 L282.65 476.96 L283.1 475.7" fill="none" stroke="#2c74b8" stroke-width="1.4" stroke-linejoin="round" />
<rect x="192.6" y="449.1" width="90.5" height="53.2" fill="none" stroke="#333333" stroke-width="1.1"/>
<line x1="192.6" y1="501.53" x2="194.8" y2="501.53" stroke="#333333" stroke-width="1"/>
<line x1="283.1" y1="501.53" x2="280.9" y2="501.53" stroke="#333333" stroke-width="1"/>
<line x1="192.6" y1="475.7" x2="194.8" y2="475.7" stroke="#333333" stroke-width="1"/>
<line x1="283.1" y1="475.7" x2="280.9" y2="475.7" stroke="#333333" stroke-width="1"/>
<line x1="192.6" y1="449.87" x2="194.8" y2="449.87" stroke="#333333" stroke-width="1"/>
<line x1="283.1" y1="449.87" x2="280.9" y2="449.87" stroke="#333333" stroke-width="1"/>
<text transform="translate(188.1 505.73) scale(1 1.07)" font-size="12" text-anchor="end" font-weight="bold" fill="#111111" stroke="#111111" stroke-width="0.2" >-10</text>
<text transform="translate(188.1 479.9) scale(1 1.07)" font-size="12" text-anchor="end" font-weight="bold" fill="#111111" stroke="#111111" stroke-width="0.2" >0</text>
<text transform="translate(188.1 454.07) scale(1 1.07)" font-size="12" text-anchor="end" font-weight="bold" fill="#111111" stroke="#111111" stroke-width="0.2" >10</text>
<text transform="translate(192.6 518.6) scale(1 1.07)" font-size="12" text-anchor="middle" font-weight="bold" fill="#111111" stroke="#111111" stroke-width="0.2" >0</text>
<text transform="translate(283.1 518.6) scale(1 1.07)" font-size="12" text-anchor="middle" font-weight="bold" fill="#111111" stroke="#111111" stroke-width="0.2" >50</text>
<text transform="translate(237.85 445.9) scale(1 1.0)" font-size="13" text-anchor="middle" font-weight="bold" fill="#111111" stroke="#111111" stroke-width="0.2" >Acceleration</text>
<line x1="322.7" y1="493.39" x2="413.6" y2="493.39" stroke="#dbd7d7" stroke-width="1"/>
<line x1="322.7" y1="474.75" x2="413.6" y2="474.75" stroke="#dbd7d7" stroke-width="1"/>
<line x1="322.7" y1="456.11" x2="413.6" y2="456.11" stroke="#dbd7d7" stroke-width="1"/>
<path d="M324.52 474.75 L324.97 473.37 L325.41 472.04 L325.86 470.75 L326.31 469.49 L326.76 468.28 L327.2 467.11 L327.65 465.98 L328.1 464.89 L328.55 463.83 L328.99 462.82 L329.44 461.84 L329.89 460.9 L330.34 459.99 L330.79 459.13 L331.23 458.3 L331.68 457.5 L332.13 456.74 L332.58 456.02 L333.02 455.33 L333.47 454.67 L333.92 454.05 L334.37 453.46 L334.81 452.9 L335.26 452.38 L335.71 451.89 L336.16 451.43 L336.6 451 L337.05 450.6 L337.5 450.23 L337.95 449.89 L338.4 449.58 L338.84 449.3 L339.29 449.05 L339.74 448.83 L340.19 448.63 L340.63 448.46 L341.08 448.32 L341.53 448.2 L341.98 448.12 L342.42 448.05 L342.87 448.01 L343.32 448 L343.77 448.01 L344.21 448.05 L344.66 448.1 L345.11 448.19 L345.56 448.29 L346.01 448.42 L346.45 448.56 L346.9 448.73 L347.35 448.92 L347.8 449.13 L348.24 449.36 L348.69 449.61 L349.14 449.88 L349.59 450.17 L350.03 450.48 L350.48 450.81 L350.93 451.15 L351.38 451.51 L351.82 451.88 L352.27 452.28 L352.72 452.69 L353.17 453.11 L353.62 453.55 L354.06 454 L354.51 454.47 L354.96 454.95 L355.41 455.45 L355.85 455.96 L356.3 456.48 L356.75 457.01 L357.2 457.55 L357.64 458.11 L358.09 458.67 L358.54 459.25 L358.99 459.84 L359.43 460.43 L359.88 461.04 L360.33 461.65 L360.78 462.27 L361.23 462.9 L361.67 463.54 L362.12 464.19 L362.57 464.84 L363.02 465.49 L363.46 466.16 L363.91 466.82 L364.36 467.5 L364.81 468.17 L365.25 468.86 L365.7 469.54 L366.15 470.23 L366.6 470.92 L367.04 471.61 L367.49 472.31 L367.94 473 L368.39 473.7 L368.84 474.4 L369.28 475.1 L369.73 475.8 L370.18 476.5 L370.63 477.19 L371.07 477.89 L371.52 478.58 L371.97 479.27 L372.42 479.96 L372.86 480.64 L373.31 481.33 L373.76 482 L374.21 482.68 L374.65 483.34 L375.1 484.01 L375.55 484.66 L376 485.31 L376.45 485.96 L376.89 486.6 L377.34 487.23 L377.79 487.85 L378.24 488.46 L378.68 489.07 L379.13 489.66 L379.58 490.25 L380.03 490.83 L380.47 491.39 L380.92 491.95 L381.37 492.49 L381.82 493.02 L382.26 493.54 L382.71 494.05 L383.16 494.55 L383.61 495.03 L384.06 495.5 L384.5 495.95 L384.95 496.39 L385.4 496.81 L385.85 497.22 L386.29 497.62 L386.74 497.99 L387.19 498.35 L387.64 498.69 L388.08 499.02 L388.53 499.33 L388.98 499.62 L389.43 499.89 L389.87 500.14 L390.32 500.37 L390.77 500.58 L391.22 500.77 L391.67 500.94 L392.11 501.08 L392.56 501.21 L393.01 501.31 L393.46 501.4 L393.9 501.45 L394.35 501.49 L394.8 501.5 L395.25 501.49 L395.69 501.45 L396.14 501.38 L396.59 501.3 L397.04 501.18 L397.48 501.04 L397.93 500.87 L398.38 500.67 L398.83 500.45 L399.28 500.2 L399.72 499.92 L400.17 499.61 L400.62 499.27 L401.07 498.9 L401.51 498.5 L401.96 498.07 L402.41 497.61 L402.86 497.12 L403.3 496.6 L403.75 496.04 L404.2 495.45 L404.65 494.83 L405.09 494.17 L405.54 493.48 L405.99 492.76 L406.44 492 L406.89 491.2 L407.33 490.37 L407.78 489.51 L408.23 488.6 L408.68 487.66 L409.12 486.68 L409.57 485.67 L410.02 484.61 L410.47 483.52 L410.91 482.39 L411.36 481.22 L411.81 480.01 L412.26 478.75 L412.7 477.46 L413.15 476.13 L413.6 474.75" fill="none" stroke="#2c74b8" stroke-width="1.4" stroke-linejoin="round" />
<rect x="322.7" y="448" width="90.9" height="53.5" fill="none" stroke="#333333" stroke-width="1.1"/>
<line x1="322.7" y1="493.39" x2="324.9" y2="493.39" stroke="#333333" stroke-width="1"/>
<line x1="413.6" y1="493.39" x2="411.4" y2="493.39" stroke="#333333" stroke-width="1"/>
<line x1="322.7" y1="474.75" x2="324.9" y2="474.75" stroke="#333333" stroke-width="1"/>
<line x1="413.6" y1="474.75" x2="411.4" y2="474.75" stroke="#333333" stroke-width="1"/>
<line x1="322.7" y1="456.11" x2="324.9" y2="456.11" stroke="#333333" stroke-width="1"/>
<line x1="413.6" y1="456.11" x2="411.4" y2="456.11" stroke="#333333" stroke-width="1"/>
<text transform="translate(318.2 497.59) scale(1 1.07)" font-size="12" text-anchor="end" font-weight="bold" fill="#111111" stroke="#111111" stroke-width="0.2" >-2</text>
<text transform="translate(318.2 478.95) scale(1 1.07)" font-size="12" text-anchor="end" font-weight="bold" fill="#111111" stroke="#111111" stroke-width="0.2" >0</text>
<text transform="translate(318.2 460.31) scale(1 1.07)" font-size="12" text-anchor="end" font-weight="bold" fill="#111111" stroke="#111111" stroke-width="0.2" >2</text>
<text transform="translate(322.7 517.8) scale(1 1.07)" font-size="12" text-anchor="middle" font-weight="bold" fill="#111111" stroke="#111111" stroke-width="0.2" >0</text>
<text transform="translate(413.6 517.8) scale(1 1.07)" font-size="12" text-anchor="middle" font-weight="bold" fill="#111111" stroke="#111111" stroke-width="0.2" >50</text>
<text transform="translate(368.15 445.1) scale(1 1.0)" font-size="13" text-anchor="middle" font-weight="bold" fill="#111111" stroke="#111111" stroke-width="0.2" >Acceleration</text>
<line x1="451.7" y1="497.95" x2="542.1" y2="497.95" stroke="#dbd7d7" stroke-width="1"/>
<line x1="451.7" y1="473.3" x2="542.1" y2="473.3" stroke="#dbd7d7" stroke-width="1"/>
<line x1="451.7" y1="448.65" x2="542.1" y2="448.65" stroke="#dbd7d7" stroke-width="1"/>
<path d="M453.51 473.3 L453.95 474.65 L454.4 475.96 L454.84 477.23 L455.29 478.46 L455.73 479.65 L456.18 480.8 L456.62 481.91 L457.07 482.98 L457.51 484.02 L457.96 485.01 L458.41 485.97 L458.85 486.9 L459.3 487.78 L459.74 488.63 L460.19 489.45 L460.63 490.23 L461.08 490.97 L461.52 491.69 L461.97 492.36 L462.41 493.01 L462.86 493.62 L463.3 494.2 L463.75 494.74 L464.19 495.26 L464.64 495.74 L465.08 496.19 L465.53 496.61 L465.97 497 L466.42 497.37 L466.86 497.7 L467.31 498 L467.75 498.28 L468.2 498.52 L468.64 498.74 L469.09 498.94 L469.53 499.1 L469.98 499.24 L470.43 499.35 L470.87 499.44 L471.32 499.5 L471.76 499.54 L472.21 499.55 L472.65 499.54 L473.1 499.51 L473.54 499.45 L473.99 499.37 L474.43 499.27 L474.88 499.15 L475.32 499 L475.77 498.83 L476.21 498.65 L476.66 498.44 L477.1 498.21 L477.55 497.97 L477.99 497.7 L478.44 497.42 L478.88 497.12 L479.33 496.8 L479.77 496.46 L480.22 496.11 L480.66 495.74 L481.11 495.36 L481.55 494.95 L482 494.54 L482.45 494.11 L482.89 493.66 L483.34 493.2 L483.78 492.73 L484.23 492.24 L484.67 491.75 L485.12 491.23 L485.56 490.71 L486.01 490.18 L486.45 489.63 L486.9 489.08 L487.34 488.51 L487.79 487.94 L488.23 487.35 L488.68 486.76 L489.12 486.15 L489.57 485.54 L490.01 484.93 L490.46 484.3 L490.9 483.67 L491.35 483.03 L491.79 482.38 L492.24 481.73 L492.68 481.08 L493.13 480.42 L493.57 479.75 L494.02 479.08 L494.47 478.41 L494.91 477.74 L495.36 477.06 L495.8 476.38 L496.25 475.7 L496.69 475.01 L497.14 474.33 L497.58 473.64 L498.03 472.96 L498.47 472.27 L498.92 471.59 L499.36 470.9 L499.81 470.22 L500.25 469.54 L500.7 468.86 L501.14 468.19 L501.59 467.52 L502.03 466.85 L502.48 466.18 L502.92 465.52 L503.37 464.87 L503.81 464.22 L504.26 463.57 L504.7 462.93 L505.15 462.3 L505.59 461.67 L506.04 461.06 L506.49 460.45 L506.93 459.84 L507.38 459.25 L507.82 458.66 L508.27 458.09 L508.71 457.52 L509.16 456.97 L509.6 456.42 L510.05 455.89 L510.49 455.37 L510.94 454.85 L511.38 454.36 L511.83 453.87 L512.27 453.4 L512.72 452.94 L513.16 452.49 L513.61 452.06 L514.05 451.65 L514.5 451.24 L514.94 450.86 L515.39 450.49 L515.83 450.14 L516.28 449.8 L516.72 449.48 L517.17 449.18 L517.61 448.9 L518.06 448.63 L518.51 448.39 L518.95 448.16 L519.4 447.95 L519.84 447.77 L520.29 447.6 L520.73 447.45 L521.18 447.33 L521.62 447.23 L522.07 447.15 L522.51 447.09 L522.96 447.06 L523.4 447.05 L523.85 447.06 L524.29 447.1 L524.74 447.16 L525.18 447.25 L525.63 447.36 L526.07 447.5 L526.52 447.66 L526.96 447.86 L527.41 448.08 L527.85 448.32 L528.3 448.6 L528.74 448.9 L529.19 449.23 L529.63 449.6 L530.08 449.99 L530.53 450.41 L530.97 450.86 L531.42 451.34 L531.86 451.86 L532.31 452.4 L532.75 452.98 L533.2 453.59 L533.64 454.24 L534.09 454.91 L534.53 455.63 L534.98 456.37 L535.42 457.15 L535.87 457.97 L536.31 458.82 L536.76 459.7 L537.2 460.63 L537.65 461.59 L538.09 462.58 L538.54 463.62 L538.98 464.69 L539.43 465.8 L539.87 466.95 L540.32 468.14 L540.76 469.37 L541.21 470.64 L541.65 471.95 L542.1 473.3" fill="none" stroke="#2c74b8" stroke-width="1.4" stroke-linejoin="round" />
<rect x="451.7" y="446.8" width="90.4" height="53" fill="none" stroke="#333333" stroke-width="1.1"/>
<line x1="451.7" y1="497.95" x2="453.9" y2="497.95" stroke="#333333" stroke-width="1"/>
<line x1="542.1" y1="497.95" x2="539.9" y2="497.95" stroke="#333333" stroke-width="1"/>
<line x1="451.7" y1="473.3" x2="453.9" y2="473.3" stroke="#333333" stroke-width="1"/>
<line x1="542.1" y1="473.3" x2="539.9" y2="473.3" stroke="#333333" stroke-width="1"/>
<line x1="451.7" y1="448.65" x2="453.9" y2="448.65" stroke="#333333" stroke-width="1"/>
<line x1="542.1" y1="448.65" x2="539.9" y2="448.65" stroke="#333333" stroke-width="1"/>
<text transform="translate(447.2 502.15) scale(1 1.07)" font-size="12" text-anchor="end" font-weight="bold" fill="#111111" stroke="#111111" stroke-width="0.2" >-20</text>
<text transform="translate(447.2 477.5) scale(1 1.07)" font-size="12" text-anchor="end" font-weight="bold" fill="#111111" stroke="#111111" stroke-width="0.2" >0</text>
<text transform="translate(447.2 452.85) scale(1 1.07)" font-size="12" text-anchor="end" font-weight="bold" fill="#111111" stroke="#111111" stroke-width="0.2" >20</text>
<text transform="translate(451.7 516.1) scale(1 1.07)" font-size="12" text-anchor="middle" font-weight="bold" fill="#111111" stroke="#111111" stroke-width="0.2" >0</text>
<text transform="translate(542.1 516.1) scale(1 1.07)" font-size="12" text-anchor="middle" font-weight="bold" fill="#111111" stroke="#111111" stroke-width="0.2" >50</text>
<text transform="translate(496.9 443.7) scale(1 1.0)" font-size="13" text-anchor="middle" font-weight="bold" fill="#111111" stroke="#111111" stroke-width="0.2" >Acceleration</text>
<text transform="translate(130 18.8) scale(1 1.0)" font-size="22" text-anchor="middle" font-weight="bold" fill="#111111" stroke="#111111" stroke-width="0.2" >(a)</text>
<text transform="translate(435 18.8) scale(1 1.0)" font-size="22" text-anchor="middle" font-weight="bold" fill="#111111" stroke="#111111" stroke-width="0.2" >(b)</text>
<text transform="translate(17.2 255.8) scale(1 1.0)" font-size="22" text-anchor="middle" font-weight="bold" fill="#111111" stroke="#111111" stroke-width="0.2" >(c)</text>
<text transform="translate(15.8 347.3) scale(1 1.0)" font-size="22" text-anchor="middle" font-weight="bold" fill="#111111" stroke="#111111" stroke-width="0.2" >(d)</text>
<text transform="translate(17.2 449.3) scale(1 1.0)" font-size="22" text-anchor="middle" font-weight="bold" fill="#111111" stroke="#111111" stroke-width="0.2" >(e)</text>
<line x1="322.3" y1="56.19" x2="536.4" y2="56.19" stroke="#dbd7d7" stroke-width="1"/>
<line x1="322.3" y1="91.37" x2="536.4" y2="91.37" stroke="#dbd7d7" stroke-width="1"/>
<line x1="322.3" y1="126.55" x2="536.4" y2="126.55" stroke="#dbd7d7" stroke-width="1"/>
<line x1="322.3" y1="161.73" x2="536.4" y2="161.73" stroke="#dbd7d7" stroke-width="1"/>
<line x1="365.12" y1="40.4" x2="365.12" y2="198.1" stroke="#dbd7d7" stroke-width="1"/>
<line x1="407.94" y1="40.4" x2="407.94" y2="198.1" stroke="#dbd7d7" stroke-width="1"/>
<line x1="450.76" y1="40.4" x2="450.76" y2="198.1" stroke="#dbd7d7" stroke-width="1"/>
<line x1="493.58" y1="40.4" x2="493.58" y2="198.1" stroke="#dbd7d7" stroke-width="1"/>
<path d="M326.58 40.58 L327.42 40.6 L328.27 40.63 L329.11 40.66 L329.95 40.69 L330.8 40.72 L331.64 40.76 L332.48 40.79 L333.32 40.83 L334.17 40.87 L335.01 40.91 L335.85 40.95 L336.69 40.99 L337.54 41.04 L338.38 41.09 L339.22 41.14 L340.06 41.19 L340.91 41.24 L341.75 41.3 L342.59 41.36 L343.43 41.42 L344.28 41.49 L345.12 41.55 L345.96 41.62 L346.81 41.7 L347.65 41.78 L348.49 41.86 L349.33 41.94 L350.18 42.03 L351.02 42.12 L351.86 42.21 L352.7 42.31 L353.55 42.42 L354.39 42.53 L355.23 42.64 L356.07 42.76 L356.92 42.88 L357.76 43.01 L358.6 43.14 L359.45 43.28 L360.29 43.43 L361.13 43.58 L361.97 43.74 L362.82 43.9 L363.66 44.08 L364.5 44.26 L365.34 44.44 L366.19 44.64 L367.03 44.84 L367.87 45.05 L368.71 45.27 L369.56 45.5 L370.4 45.74 L371.24 45.99 L372.08 46.25 L372.93 46.52 L373.77 46.8 L374.61 47.09 L375.46 47.39 L376.3 47.71 L377.14 48.04 L377.98 48.38 L378.83 48.73 L379.67 49.1 L380.51 49.48 L381.35 49.88 L382.2 50.29 L383.04 50.72 L383.88 51.16 L384.72 51.62 L385.57 52.1 L386.41 52.59 L387.25 53.1 L388.09 53.63 L388.94 54.18 L389.78 54.75 L390.62 55.33 L391.47 55.94 L392.31 56.56 L393.15 57.21 L393.99 57.88 L394.84 58.56 L395.68 59.27 L396.52 60 L397.36 60.75 L398.21 61.53 L399.05 62.32 L399.89 63.14 L400.73 63.98 L401.58 64.84 L402.42 65.73 L403.26 66.63 L404.11 67.56 L404.95 68.51 L405.79 69.48 L406.63 70.47 L407.48 71.48 L408.32 72.51 L409.16 73.56 L410 74.62 L410.85 75.71 L411.69 76.81 L412.53 77.93 L413.37 79.06 L414.22 80.2 L415.06 81.36 L415.9 82.53 L416.74 83.7 L417.59 84.89 L418.43 86.08 L419.27 87.28 L420.12 88.48 L420.96 89.68 L421.8 90.89 L422.64 92.09 L423.49 93.29 L424.33 94.48 L425.17 95.66 L426.01 96.84 L426.86 98.01 L427.7 99.16 L428.54 100.3 L429.38 101.42 L430.23 102.53 L431.07 103.61 L431.91 104.68 L432.75 105.72 L433.6 106.74 L434.44 107.74 L435.28 108.7 L436.13 109.65 L436.97 110.56 L437.81 111.45 L438.65 112.3 L439.5 113.13 L440.34 113.92 L441.18 114.69 L442.02 115.42 L442.87 116.12 L443.71 116.79 L444.55 117.43 L445.39 118.04 L446.24 118.63 L447.08 119.18 L447.92 119.7 L448.77 120.19 L449.61 120.66 L450.45 121.09 L451.29 121.51 L452.14 121.89 L452.98 122.26 L453.82 122.6 L454.66 122.91 L455.51 123.21 L456.35 123.48 L457.19 123.74 L458.03 123.98 L458.88 124.2 L459.72 124.4 L460.56 124.59 L461.4 124.76 L462.25 124.92 L463.09 125.07 L463.93 125.2 L464.78 125.33 L465.62 125.44 L466.46 125.55 L467.3 125.64 L468.15 125.73 L468.99 125.81 L469.83 125.88 L470.67 125.94 L471.52 126 L472.36 126.06 L473.2 126.11 L474.04 126.15 L474.89 126.19 L475.73 126.23 L476.57 126.26 L477.42 126.29 L478.26 126.32 L479.1 126.34 L479.94 126.36 L480.79 126.38 L481.63 126.4 L482.47 126.42 L483.31 126.43 L484.16 126.44 L485 126.45 L485.84 126.46 L486.68 126.47 L487.53 126.48 L488.37 126.49 L489.21 126.5 L490.05 126.5 L490.9 126.51 L491.74 126.51 L492.58 126.52 L493.43 126.52 L494.27 126.52 L495.11 126.53 L495.95 126.53 L496.8 126.53 L497.64 126.53 L498.48 126.54 L499.32 126.54 L500.17 126.54 L501.01 126.54 L501.85 126.54 L502.69 126.54 L503.54 126.54 L504.38 126.54 L505.22 126.54 L506.06 126.54 L506.91 126.55 L507.75 126.55 L508.59 126.55 L509.44 126.55 L510.28 126.55 L511.12 126.55 L511.96 126.55 L512.81 126.55 L513.65 126.55 L514.49 126.55 L515.33 126.55 L516.18 126.55 L517.02 126.55 L517.86 126.55 L518.7 126.55 L519.55 126.55 L520.39 126.55 L521.23 126.55 L522.08 126.55 L522.92 126.55 L523.76 126.55 L524.6 126.55 L525.45 126.55 L526.29 126.55 L527.13 126.55 L527.97 126.55 L528.82 126.55 L529.66 126.55 L530.5 126.55 L531.34 126.55 L532.19 126.55 L533.03 126.55 L533.87 126.55 L534.71 126.55 L535.56 126.55 L536.4 126.55" fill="none" stroke="#3596d4" stroke-width="1.4"/>
<path d="M326.58 197.96 L327.42 197.94 L328.27 197.93 L329.11 197.91 L329.95 197.9 L330.8 197.89 L331.64 197.88 L332.48 197.88 L333.32 197.87 L334.17 197.87 L335.01 197.86 L335.85 197.86 L336.69 197.86 L337.54 197.85 L338.38 197.85 L339.22 197.85 L340.06 197.84 L340.91 197.84 L341.75 197.83 L342.59 197.83 L343.43 197.82 L344.28 197.81 L345.12 197.8 L345.96 197.79 L346.81 197.78 L347.65 197.76 L348.49 197.74 L349.33 197.72 L350.18 197.7 L351.02 197.67 L351.86 197.64 L352.7 197.61 L353.55 197.57 L354.39 197.53 L355.23 197.49 L356.07 197.44 L356.92 197.39 L357.76 197.33 L358.6 197.27 L359.45 197.2 L360.29 197.13 L361.13 197.05 L361.97 196.97 L362.82 196.88 L363.66 196.79 L364.5 196.68 L365.34 196.58 L366.19 196.46 L367.03 196.34 L367.87 196.22 L368.71 196.09 L369.56 195.95 L370.4 195.8 L371.24 195.65 L372.08 195.49 L372.93 195.33 L373.77 195.15 L374.61 194.98 L375.46 194.79 L376.3 194.6 L377.14 194.4 L377.98 194.2 L378.83 193.99 L379.67 193.77 L380.51 193.55 L381.35 193.32 L382.2 193.08 L383.04 192.84 L383.88 192.59 L384.72 192.33 L385.57 192.07 L386.41 191.8 L387.25 191.53 L388.09 191.25 L388.94 190.96 L389.78 190.66 L390.62 190.36 L391.47 190.05 L392.31 189.74 L393.15 189.41 L393.99 189.08 L394.84 188.73 L395.68 188.36 L396.52 187.99 L397.36 187.59 L398.21 187.18 L399.05 186.75 L399.89 186.29 L400.73 185.81 L401.58 185.31 L402.42 184.78 L403.26 184.22 L404.11 183.64 L404.95 183.02 L405.79 182.37 L406.63 181.69 L407.48 180.97 L408.32 180.21 L409.16 179.42 L410 178.59 L410.85 177.73 L411.69 176.83 L412.53 175.9 L413.37 174.93 L414.22 173.94 L415.06 172.91 L415.9 171.86 L416.74 170.77 L417.59 169.66 L418.43 168.52 L419.27 167.36 L420.12 166.18 L420.96 164.97 L421.8 163.74 L422.64 162.49 L423.49 161.23 L424.33 159.96 L425.17 158.69 L426.01 157.41 L426.86 156.14 L427.7 154.88 L428.54 153.64 L429.38 152.41 L430.23 151.2 L431.07 150.02 L431.91 148.87 L432.75 147.76 L433.6 146.68 L434.44 145.65 L435.28 144.66 L436.13 143.71 L436.97 142.81 L437.81 141.94 L438.65 141.11 L439.5 140.32 L440.34 139.56 L441.18 138.84 L442.02 138.15 L442.87 137.49 L443.71 136.87 L444.55 136.27 L445.39 135.71 L446.24 135.17 L447.08 134.66 L447.92 134.18 L448.77 133.72 L449.61 133.28 L450.45 132.87 L451.29 132.48 L452.14 132.11 L452.98 131.76 L453.82 131.43 L454.66 131.12 L455.51 130.83 L456.35 130.55 L457.19 130.29 L458.03 130.04 L458.88 129.81 L459.72 129.59 L460.56 129.38 L461.4 129.18 L462.25 129 L463.09 128.82 L463.93 128.65 L464.78 128.48 L465.62 128.32 L466.46 128.18 L467.3 128.03 L468.15 127.9 L468.99 127.77 L469.83 127.64 L470.67 127.53 L471.52 127.42 L472.36 127.31 L473.2 127.21 L474.04 127.12 L474.89 127.04 L475.73 126.95 L476.57 126.88 L477.42 126.81 L478.26 126.74 L479.1 126.68 L479.94 126.62 L480.79 126.57 L481.63 126.55 L482.47 126.55 L483.31 126.55 L484.16 126.55 L485 126.55 L485.84 126.55 L486.68 126.55 L487.53 126.55 L488.37 126.55 L489.21 126.55 L490.05 126.55 L490.9 126.55 L491.74 126.55 L492.58 126.55 L493.43 126.55 L494.27 126.55 L495.11 126.55 L495.95 126.55 L496.8 126.55 L497.64 126.55 L498.48 126.55 L499.32 126.55 L500.17 126.55 L501.01 126.55 L501.85 126.55 L502.69 126.55 L503.54 126.55 L504.38 126.55 L505.22 126.55 L506.06 126.55 L506.91 126.55 L507.75 126.55 L508.59 126.55 L509.44 126.58 L510.28 126.6 L511.12 126.62 L511.96 126.64 L512.81 126.66 L513.65 126.68 L514.49 126.7 L515.33 126.72 L516.18 126.73 L517.02 126.75 L517.86 126.76 L518.7 126.77 L519.55 126.78 L520.39 126.79 L521.23 126.79 L522.08 126.79 L522.92 126.79 L523.76 126.79 L524.6 126.79 L525.45 126.78 L526.29 126.77 L527.13 126.75 L527.97 126.74 L528.82 126.71 L529.66 126.69 L530.5 126.66 L531.34 126.63 L532.19 126.59 L533.03 126.55 L533.87 126.55 L534.71 126.55 L535.56 126.55 L536.4 126.55" fill="none" stroke="#2c74b8" stroke-width="1.0"/>
<path d="M326.58 139.91 L327.42 139.98 L328.27 140.04 L329.11 140.1 L329.95 140.14 L330.8 140.18 L331.64 140.22 L332.48 140.24 L333.32 140.26 L334.17 140.28 L335.01 140.29 L335.85 140.3 L336.69 140.31 L337.54 140.31 L338.38 140.31 L339.22 140.31 L340.06 140.31 L340.91 140.3 L341.75 140.3 L342.59 140.3 L343.43 140.3 L344.28 140.31 L345.12 140.32 L345.96 140.33 L346.81 140.34 L347.65 140.36 L348.49 140.39 L349.33 140.42 L350.18 140.46 L351.02 140.5 L351.86 140.56 L352.7 140.62 L353.55 140.69 L354.39 140.77 L355.23 140.86 L356.07 140.97 L356.92 141.08 L357.76 141.21 L358.6 141.35 L359.45 141.49 L360.29 141.65 L361.13 141.82 L361.97 142 L362.82 142.19 L363.66 142.39 L364.5 142.6 L365.34 142.81 L366.19 143.04 L367.03 143.27 L367.87 143.51 L368.71 143.75 L369.56 144 L370.4 144.26 L371.24 144.52 L372.08 144.79 L372.93 145.07 L373.77 145.34 L374.61 145.63 L375.46 145.91 L376.3 146.2 L377.14 146.49 L377.98 146.79 L378.83 147.09 L379.67 147.38 L380.51 147.68 L381.35 147.99 L382.2 148.29 L383.04 148.59 L383.88 148.89 L384.72 149.2 L385.57 149.5 L386.41 149.8 L387.25 150.11 L388.09 150.42 L388.94 150.72 L389.78 151.03 L390.62 151.34 L391.47 151.65 L392.31 151.96 L393.15 152.28 L393.99 152.59 L394.84 152.91 L395.68 153.23 L396.52 153.55 L397.36 153.87 L398.21 154.19 L399.05 154.52 L399.89 154.85 L400.73 155.18 L401.58 155.51 L402.42 155.85 L403.26 156.19 L404.11 156.53 L404.95 156.87 L405.79 157.22 L406.63 157.56 L407.48 157.9 L408.32 158.23 L409.16 158.56 L410 158.88 L410.85 159.19 L411.69 159.49 L412.53 159.77 L413.37 160.04 L414.22 160.29 L415.06 160.53 L415.9 160.74 L416.74 160.93 L417.59 161.1 L418.43 161.24 L419.27 161.36 L420.12 161.45 L420.96 161.5 L421.8 161.53 L422.64 161.52 L423.49 161.49 L424.33 161.43 L425.17 161.34 L426.01 161.22 L426.86 161.08 L427.7 160.92 L428.54 160.74 L429.38 160.54 L430.23 160.32 L431.07 160.07 L431.91 159.82 L432.75 159.55 L433.6 159.26 L434.44 158.96 L435.28 158.65 L436.13 158.33 L436.97 157.99 L437.81 157.66 L438.65 157.31 L439.5 156.96 L440.34 156.6 L441.18 156.23 L442.02 155.86 L442.87 155.48 L443.71 155.1 L444.55 154.7 L445.39 154.31 L446.24 153.9 L447.08 153.49 L447.92 153.07 L448.77 152.65 L449.61 152.22 L450.45 151.78 L451.29 151.34 L452.14 150.89 L452.98 150.44 L453.82 149.98 L454.66 149.51 L455.51 149.04 L456.35 148.56 L457.19 148.07 L458.03 147.58 L458.88 147.09 L459.72 146.6 L460.56 146.1 L461.4 145.6 L462.25 145.1 L463.09 144.6 L463.93 144.09 L464.78 143.59 L465.62 143.1 L466.46 142.6 L467.3 142.1 L468.15 141.61 L468.99 141.13 L469.83 140.65 L470.67 140.17 L471.52 139.7 L472.36 139.24 L473.2 138.78 L474.04 138.33 L474.89 137.89 L475.73 137.46 L476.57 137.04 L477.42 136.63 L478.26 136.23 L479.1 135.84 L479.94 135.47 L480.79 135.1 L481.63 134.74 L482.47 134.39 L483.31 134.05 L484.16 133.72 L485 133.4 L485.84 133.09 L486.68 132.79 L487.53 132.5 L488.37 132.21 L489.21 131.94 L490.05 131.67 L490.9 131.42 L491.74 131.17 L492.58 130.93 L493.43 130.7 L494.27 130.47 L495.11 130.26 L495.95 130.05 L496.8 129.85 L497.64 129.66 L498.48 129.47 L499.32 129.3 L500.17 129.13 L501.01 128.96 L501.85 128.81 L502.69 128.66 L503.54 128.52 L504.38 128.38 L505.22 128.25 L506.06 128.13 L506.91 128.02 L507.75 127.91 L508.59 127.8 L509.44 127.7 L510.28 127.61 L511.12 127.52 L511.96 127.44 L512.81 127.36 L513.65 127.29 L514.49 127.22 L515.33 127.16 L516.18 127.1 L517.02 127.04 L517.86 126.99 L518.7 126.94 L519.55 126.9 L520.39 126.86 L521.23 126.82 L522.08 126.79 L522.92 126.76 L523.76 126.73 L524.6 126.71 L525.45 126.69 L526.29 126.67 L527.13 126.65 L527.97 126.63 L528.82 126.62 L529.66 126.61 L530.5 126.6 L531.34 126.59 L532.19 126.58 L533.03 126.57 L533.87 126.57 L534.71 126.56 L535.56 126.56 L536.4 126.55" fill="none" stroke="#2c74b8" stroke-width="1.4"/>
<path d="M326.58 197.96 L327.42 197.94 L328.27 197.93 L329.11 197.91 L329.95 197.9 L330.8 197.89 L331.64 197.88 L332.48 197.88 L333.32 197.87 L334.17 197.87 L335.01 197.86 L335.85 197.86 L336.69 197.86 L337.54 197.85 L338.38 197.85 L339.22 197.85 L340.06 197.84 L340.91 197.84 L341.75 197.83 L342.59 197.83 L343.43 197.82 L344.28 197.81 L345.12 197.8 L345.96 197.79 L346.81 197.78 L347.65 197.76 L348.49 197.74 L349.33 197.72 L350.18 197.7 L351.02 197.67 L351.86 197.64 L352.7 197.61 L353.55 197.57 L354.39 197.53 L355.23 197.49 L356.07 197.44 L356.92 197.39 L357.76 197.33 L358.6 197.27 L359.45 197.2 L360.29 197.13 L361.13 197.05 L361.97 196.97 L362.82 196.88 L363.66 196.79 L364.5 196.68 L365.34 196.58 L366.19 196.46 L367.03 196.34 L367.87 196.22 L368.71 196.09 L369.56 195.95 L370.4 195.8 L371.24 195.65 L372.08 195.49 L372.93 195.33 L373.77 195.15 L374.61 194.98 L375.46 194.79 L376.3 194.6 L377.14 194.4 L377.98 194.2 L378.83 193.99 L379.67 193.77 L380.51 193.55 L381.35 193.32 L382.2 193.08 L383.04 192.84 L383.88 192.59 L384.72 192.33 L385.57 192.07 L386.41 191.8 L387.25 191.53 L388.09 191.25 L388.94 190.96 L389.78 190.66 L390.62 190.36 L391.47 190.05 L392.31 189.74 L393.15 189.41 L393.99 189.08 L394.84 188.73 L395.68 188.36 L396.52 187.99 L397.36 187.59 L398.21 187.18 L399.05 186.75 L399.89 186.29 L400.73 185.81 L401.58 185.31 L402.42 184.78 L403.26 184.22 L404.11 183.64 L404.95 183.02 L405.79 182.37 L406.63 181.69 L407.48 180.97 L408.32 180.21 L409.16 179.42 L410 178.59 L410.85 177.73 L411.69 176.83 L412.53 175.9 L413.37 174.93 L414.22 173.94 L415.06 172.91 L415.9 171.86 L416.74 170.77 L417.59 169.66 L418.43 168.52 L419.27 167.36 L420.12 166.18 L420.96 164.97 L421.8 163.74 L422.64 162.49 L423.49 161.23 L424.33 159.96 L425.17 158.69 L426.01 157.41 L426.86 156.14 L427.7 154.88 L428.54 153.64 L429.38 152.41 L430.23 151.2 L431.07 150.02 L431.91 148.87 L432.75 147.76 L433.6 146.68 L434.44 145.65 L435.28 144.66 L436.13 143.71 L436.97 142.81 L437.81 141.94 L438.65 141.11 L439.5 140.32 L440.34 139.56 L441.18 138.84 L442.02 138.15 L442.87 137.49 L443.71 136.87 L444.55 136.27 L445.39 135.71 L446.24 135.17 L447.08 134.66 L447.92 134.18 L448.77 133.72 L449.61 133.28 L450.45 132.87 L451.29 132.48 L452.14 132.11 L452.98 131.76 L453.82 131.43 L454.66 131.12 L455.51 130.83 L456.35 130.55 L457.19 130.29 L458.03 130.04 L458.88 129.81 L459.72 129.59 L460.56 129.38 L461.4 129.18 L462.25 129 L463.09 128.82 L463.93 128.65 L464.78 128.48 L465.62 128.32 L466.46 128.18 L467.3 128.03 L468.15 127.9 L468.99 127.77 L469.83 127.64 L470.67 127.53 L471.52 127.42 L472.36 127.31 L473.2 127.21 L474.04 127.12 L474.89 127.04 L475.73 126.95 L476.57 126.88 L477.42 126.81 L478.26 126.74 L479.1 126.68 L479.94 126.62 L480.79 126.57 L481.63 126.55 L482.47 126.55 L483.31 126.55 L484.16 126.55 L485 126.55 L485.84 126.55 L486.68 126.55 L487.53 126.55 L488.37 126.55 L489.21 126.55 L490.05 126.55 L490.9 126.55 L491.74 126.55 L492.58 126.55 L493.43 126.55 L494.27 126.55 L495.11 126.55 L495.95 126.55 L496.8 126.55 L497.64 126.55 L498.48 126.55 L499.32 126.55 L500.17 126.55 L501.01 126.55 L501.85 126.55 L502.69 126.55 L503.54 126.55 L504.38 126.55 L505.22 126.55 L506.06 126.55 L506.91 126.55 L507.75 126.55 L508.59 126.55 L509.44 126.58 L510.28 126.6 L511.12 126.62 L511.96 126.64 L512.81 126.66 L513.65 126.68 L514.49 126.7 L515.33 126.72 L516.18 126.73 L517.02 126.75 L517.86 126.76 L518.7 126.77 L519.55 126.78 L520.39 126.79 L521.23 126.79 L522.08 126.79 L522.92 126.79 L523.76 126.79 L524.6 126.79 L525.45 126.78 L526.29 126.77 L527.13 126.75 L527.97 126.74 L528.82 126.71 L529.66 126.69 L530.5 126.66 L531.34 126.63 L532.19 126.59 L533.03 126.55 L533.87 126.55 L534.71 126.55 L535.56 126.55 L536.4 126.55" fill="none" stroke="#aa3a68" stroke-width="1.3" stroke-dasharray="2.6 0.5"/>
<path d="M326.58 40.58 L327.42 40.6 L328.27 40.63 L329.11 40.66 L329.95 40.69 L330.8 40.72 L331.64 40.76 L332.48 40.79 L333.32 40.83 L334.17 40.87 L335.01 40.91 L335.85 40.95 L336.69 40.99 L337.54 41.04 L338.38 41.09 L339.22 41.14 L340.06 41.19 L340.91 41.24 L341.75 41.3 L342.59 41.36 L343.43 41.42 L344.28 41.49 L345.12 41.55 L345.96 41.62 L346.81 41.7 L347.65 41.78 L348.49 41.86 L349.33 41.94 L350.18 42.03 L351.02 42.12 L351.86 42.21 L352.7 42.31 L353.55 42.42 L354.39 42.53 L355.23 42.64 L356.07 42.76 L356.92 42.88 L357.76 43.01 L358.6 43.14 L359.45 43.28 L360.29 43.43 L361.13 43.58 L361.97 43.74 L362.82 43.9 L363.66 44.08 L364.5 44.26 L365.34 44.44 L366.19 44.64 L367.03 44.84 L367.87 45.05 L368.71 45.27 L369.56 45.5 L370.4 45.74 L371.24 45.99 L372.08 46.25 L372.93 46.52 L373.77 46.8 L374.61 47.09 L375.46 47.39 L376.3 47.71 L377.14 48.04 L377.98 48.38 L378.83 48.73 L379.67 49.1 L380.51 49.48 L381.35 49.88 L382.2 50.29 L383.04 50.72 L383.88 51.16 L384.72 51.62 L385.57 52.1 L386.41 52.59 L387.25 53.1 L388.09 53.63 L388.94 54.18 L389.78 54.75 L390.62 55.33 L391.47 55.94 L392.31 56.56 L393.15 57.21 L393.99 57.88 L394.84 58.56 L395.68 59.27 L396.52 60 L397.36 60.75 L398.21 61.53 L399.05 62.32 L399.89 63.14 L400.73 63.98 L401.58 64.84 L402.42 65.73 L403.26 66.63 L404.11 67.56 L404.95 68.51 L405.79 69.48 L406.63 70.47 L407.48 71.48 L408.32 72.51 L409.16 73.56 L410 74.62 L410.85 75.71 L411.69 76.81 L412.53 77.93 L413.37 79.06 L414.22 80.2 L415.06 81.36 L415.9 82.53 L416.74 83.7 L417.59 84.89 L418.43 86.08 L419.27 87.28 L420.12 88.48 L420.96 89.68 L421.8 90.89 L422.64 92.09 L423.49 93.29 L424.33 94.48 L425.17 95.66 L426.01 96.84 L426.86 98.01 L427.7 99.16 L428.54 100.3 L429.38 101.42 L430.23 102.53 L431.07 103.61 L431.91 104.68 L432.75 105.72 L433.6 106.74 L434.44 107.74 L435.28 108.7 L436.13 109.65 L436.97 110.56 L437.81 111.45 L438.65 112.3 L439.5 113.13 L440.34 113.92 L441.18 114.69 L442.02 115.42 L442.87 116.12 L443.71 116.79 L444.55 117.43 L445.39 118.04 L446.24 118.63 L447.08 119.18 L447.92 119.7 L448.77 120.19 L449.61 120.66 L450.45 121.09 L451.29 121.51 L452.14 121.89 L452.98 122.26 L453.82 122.6 L454.66 122.91 L455.51 123.21 L456.35 123.48 L457.19 123.74 L458.03 123.98 L458.88 124.2 L459.72 124.4 L460.56 124.59 L461.4 124.76 L462.25 124.92 L463.09 125.07 L463.93 125.2 L464.78 125.33 L465.62 125.44 L466.46 125.55 L467.3 125.64 L468.15 125.73 L468.99 125.81 L469.83 125.88 L470.67 125.94 L471.52 126 L472.36 126.06 L473.2 126.11 L474.04 126.15 L474.89 126.19 L475.73 126.23 L476.57 126.26 L477.42 126.29 L478.26 126.32 L479.1 126.34 L479.94 126.36 L480.79 126.38 L481.63 126.4 L482.47 126.42 L483.31 126.43 L484.16 126.44 L485 126.45 L485.84 126.46 L486.68 126.47 L487.53 126.48 L488.37 126.49 L489.21 126.5 L490.05 126.5 L490.9 126.51 L491.74 126.51 L492.58 126.52 L493.43 126.52 L494.27 126.52 L495.11 126.53 L495.95 126.53 L496.8 126.53 L497.64 126.53 L498.48 126.54 L499.32 126.54 L500.17 126.54 L501.01 126.54 L501.85 126.54 L502.69 126.54 L503.54 126.54 L504.38 126.54 L505.22 126.54 L506.06 126.54 L506.91 126.55 L507.75 126.55 L508.59 126.55 L509.44 126.55 L510.28 126.55 L511.12 126.55 L511.96 126.55 L512.81 126.55 L513.65 126.55 L514.49 126.55 L515.33 126.55 L516.18 126.55 L517.02 126.55 L517.86 126.55 L518.7 126.55 L519.55 126.55 L520.39 126.55 L521.23 126.55 L522.08 126.55 L522.92 126.55 L523.76 126.55 L524.6 126.55 L525.45 126.55 L526.29 126.55 L527.13 126.55 L527.97 126.55 L528.82 126.55 L529.66 126.55 L530.5 126.55 L531.34 126.55 L532.19 126.55 L533.03 126.55 L533.87 126.55 L534.71 126.55 L535.56 126.55 L536.4 126.55" fill="none" stroke="#e0622a" stroke-width="1.5" stroke-dasharray="4.4 3.2"/>
<rect x="322.3" y="40.4" width="214.1" height="157.7" fill="none" stroke="#333333" stroke-width="1.1"/>
<line x1="322.3" y1="56.19" x2="324.7" y2="56.19" stroke="#333333" stroke-width="1"/>
<line x1="536.4" y1="56.19" x2="534" y2="56.19" stroke="#333333" stroke-width="1"/>
<text transform="translate(317.3 60.49) scale(1 1.07)" font-size="12.3" text-anchor="end" font-weight="bold" fill="#111111" stroke="#111111" stroke-width="0.2" >2</text>
<line x1="322.3" y1="91.37" x2="324.7" y2="91.37" stroke="#333333" stroke-width="1"/>
<line x1="536.4" y1="91.37" x2="534" y2="91.37" stroke="#333333" stroke-width="1"/>
<text transform="translate(317.3 95.67) scale(1 1.07)" font-size="12.3" text-anchor="end" font-weight="bold" fill="#111111" stroke="#111111" stroke-width="0.2" >1</text>
<line x1="322.3" y1="126.55" x2="324.7" y2="126.55" stroke="#333333" stroke-width="1"/>
<line x1="536.4" y1="126.55" x2="534" y2="126.55" stroke="#333333" stroke-width="1"/>
<text transform="translate(317.3 130.85) scale(1 1.07)" font-size="12.3" text-anchor="end" font-weight="bold" fill="#111111" stroke="#111111" stroke-width="0.2" >0</text>
<line x1="322.3" y1="161.73" x2="324.7" y2="161.73" stroke="#333333" stroke-width="1"/>
<line x1="536.4" y1="161.73" x2="534" y2="161.73" stroke="#333333" stroke-width="1"/>
<text transform="translate(317.3 166.03) scale(1 1.07)" font-size="12.3" text-anchor="end" font-weight="bold" fill="#111111" stroke="#111111" stroke-width="0.2" >-1</text>
<line x1="322.3" y1="196.91" x2="324.7" y2="196.91" stroke="#333333" stroke-width="1"/>
<line x1="536.4" y1="196.91" x2="534" y2="196.91" stroke="#333333" stroke-width="1"/>
<text transform="translate(317.3 201.21) scale(1 1.07)" font-size="12.3" text-anchor="end" font-weight="bold" fill="#111111" stroke="#111111" stroke-width="0.2" >-2</text>
<line x1="322.3" y1="198.1" x2="322.3" y2="195.7" stroke="#333333" stroke-width="1"/>
<line x1="322.3" y1="40.4" x2="322.3" y2="42.8" stroke="#333333" stroke-width="1"/>
<text transform="translate(322.3 215.3) scale(1 1.07)" font-size="12.3" text-anchor="middle" font-weight="bold" fill="#111111" stroke="#111111" stroke-width="0.2" >0</text>
<line x1="365.12" y1="198.1" x2="365.12" y2="195.7" stroke="#333333" stroke-width="1"/>
<line x1="365.12" y1="40.4" x2="365.12" y2="42.8" stroke="#333333" stroke-width="1"/>
<text transform="translate(365.12 215.3) scale(1 1.07)" font-size="12.3" text-anchor="middle" font-weight="bold" fill="#111111" stroke="#111111" stroke-width="0.2" >10</text>
<line x1="407.94" y1="198.1" x2="407.94" y2="195.7" stroke="#333333" stroke-width="1"/>
<line x1="407.94" y1="40.4" x2="407.94" y2="42.8" stroke="#333333" stroke-width="1"/>
<text transform="translate(407.94 215.3) scale(1 1.07)" font-size="12.3" text-anchor="middle" font-weight="bold" fill="#111111" stroke="#111111" stroke-width="0.2" >20</text>
<line x1="450.76" y1="198.1" x2="450.76" y2="195.7" stroke="#333333" stroke-width="1"/>
<line x1="450.76" y1="40.4" x2="450.76" y2="42.8" stroke="#333333" stroke-width="1"/>
<text transform="translate(450.76 215.3) scale(1 1.07)" font-size="12.3" text-anchor="middle" font-weight="bold" fill="#111111" stroke="#111111" stroke-width="0.2" >30</text>
<line x1="493.58" y1="198.1" x2="493.58" y2="195.7" stroke="#333333" stroke-width="1"/>
<line x1="493.58" y1="40.4" x2="493.58" y2="42.8" stroke="#333333" stroke-width="1"/>
<text transform="translate(493.58 215.3) scale(1 1.07)" font-size="12.3" text-anchor="middle" font-weight="bold" fill="#111111" stroke="#111111" stroke-width="0.2" >40</text>
<line x1="536.4" y1="198.1" x2="536.4" y2="195.7" stroke="#333333" stroke-width="1"/>
<line x1="536.4" y1="40.4" x2="536.4" y2="42.8" stroke="#333333" stroke-width="1"/>
<text transform="translate(536.4 215.3) scale(1 1.07)" font-size="12.3" text-anchor="middle" font-weight="bold" fill="#111111" stroke="#111111" stroke-width="0.2" >50</text>
<rect x="479.5" y="47.9" width="49" height="48.5" fill="#ffffff" stroke="#333333" stroke-width="1.1"/>
<line x1="482.2" y1="57" x2="513.5" y2="57" stroke="#c06a7a" stroke-width="1.3" stroke-dasharray="1.2 0.8"/>
<line x1="482.2" y1="72" x2="513.5" y2="72" stroke="#2c74b8" stroke-width="1.4"/>
<line x1="482.2" y1="87.2" x2="512" y2="87.2" stroke="#e0622a" stroke-width="1.4" stroke-dasharray="4 4.2"/>
<text transform="translate(516.4 61.2) scale(1 1.07)" font-size="12" text-anchor="start" font-weight="bold" fill="#111111" stroke="#111111" stroke-width="0.2" >X</text>
<text transform="translate(516.4 76.2) scale(1 1.07)" font-size="12" text-anchor="start" font-weight="bold" fill="#111111" stroke="#111111" stroke-width="0.2" >Y</text>
<text transform="translate(516.4 91.4) scale(1 1.07)" font-size="12" text-anchor="start" font-weight="bold" fill="#111111" stroke="#111111" stroke-width="0.2" >Z</text>
<line x1="51.6" y1="180.75" x2="105.4" y2="154.3" stroke="#dad6d6" stroke-width="1"/>
<line x1="105.4" y1="154.3" x2="180.8" y2="172.8" stroke="#dad6d6" stroke-width="1"/>
<line x1="51.6" y1="156.54" x2="105.4" y2="130.34" stroke="#dad6d6" stroke-width="1"/>
<line x1="105.4" y1="130.34" x2="180.8" y2="148.82" stroke="#dad6d6" stroke-width="1"/>
<line x1="51.6" y1="132.33" x2="105.4" y2="106.38" stroke="#dad6d6" stroke-width="1"/>
<line x1="105.4" y1="106.38" x2="180.8" y2="124.84" stroke="#dad6d6" stroke-width="1"/>
<line x1="51.6" y1="108.12" x2="105.4" y2="82.42" stroke="#dad6d6" stroke-width="1"/>
<line x1="105.4" y1="82.42" x2="180.8" y2="100.86" stroke="#dad6d6" stroke-width="1"/>
<line x1="51.6" y1="83.91" x2="105.4" y2="58.46" stroke="#dad6d6" stroke-width="1"/>
<line x1="105.4" y1="58.46" x2="180.8" y2="76.88" stroke="#dad6d6" stroke-width="1"/>
<line x1="51.6" y1="59.7" x2="105.4" y2="34.5" stroke="#dad6d6" stroke-width="1"/>
<line x1="105.4" y1="34.5" x2="180.8" y2="52.9" stroke="#dad6d6" stroke-width="1"/>
<line x1="78.5" y1="172.25" x2="78.5" y2="47.1" stroke="#dad6d6" stroke-width="1"/>
<line x1="105.4" y1="159" x2="105.4" y2="34.5" stroke="#dad6d6" stroke-width="1"/>
<line x1="107.95" y1="159.63" x2="107.95" y2="35.12" stroke="#dad6d6" stroke-width="1"/>
<line x1="144.37" y1="168.56" x2="144.37" y2="44.01" stroke="#dad6d6" stroke-width="1"/>
<line x1="180.8" y1="177.5" x2="180.8" y2="52.9" stroke="#dad6d6" stroke-width="1"/>
<line x1="90.57" y1="195.32" x2="144.37" y2="168.56" stroke="#dad6d6" stroke-width="1"/>
<line x1="54.15" y1="186.14" x2="107.95" y2="159.63" stroke="#dad6d6" stroke-width="1"/>
<line x1="153.9" y1="191" x2="78.5" y2="172.25" stroke="#dad6d6" stroke-width="1"/>
<line x1="180.8" y1="177.5" x2="105.4" y2="159" stroke="#dad6d6" stroke-width="1"/>
<line x1="51.6" y1="185.5" x2="51.6" y2="59.7" stroke="#333333" stroke-width="1.3"/>
<line x1="51.6" y1="185.5" x2="127" y2="204.5" stroke="#333333" stroke-width="1.3"/>
<line x1="127" y1="204.5" x2="180.8" y2="177.5" stroke="#333333" stroke-width="1.3"/>
<line x1="48.6" y1="180.75" x2="51.6" y2="180.75" stroke="#333333" stroke-width="1"/>
<text transform="translate(43.6 185.05) scale(1 1.07)" font-size="13" text-anchor="end" font-weight="bold" fill="#111111" stroke="#111111" stroke-width="0.2" >500</text>
<line x1="48.6" y1="156.54" x2="51.6" y2="156.54" stroke="#333333" stroke-width="1"/>
<text transform="translate(43.6 160.84) scale(1 1.07)" font-size="13" text-anchor="end" font-weight="bold" fill="#111111" stroke="#111111" stroke-width="0.2" >600</text>
<line x1="48.6" y1="132.33" x2="51.6" y2="132.33" stroke="#333333" stroke-width="1"/>
<text transform="translate(43.6 136.63) scale(1 1.07)" font-size="13" text-anchor="end" font-weight="bold" fill="#111111" stroke="#111111" stroke-width="0.2" >700</text>
<line x1="48.6" y1="108.12" x2="51.6" y2="108.12" stroke="#333333" stroke-width="1"/>
<text transform="translate(43.6 112.42) scale(1 1.07)" font-size="13" text-anchor="end" font-weight="bold" fill="#111111" stroke="#111111" stroke-width="0.2" >800</text>
<line x1="48.6" y1="83.91" x2="51.6" y2="83.91" stroke="#333333" stroke-width="1"/>
<text transform="translate(43.6 88.21) scale(1 1.07)" font-size="13" text-anchor="end" font-weight="bold" fill="#111111" stroke="#111111" stroke-width="0.2" >900</text>
<line x1="48.6" y1="59.7" x2="51.6" y2="59.7" stroke="#333333" stroke-width="1"/>
<text transform="translate(43.6 64) scale(1 1.07)" font-size="13" text-anchor="end" font-weight="bold" fill="#111111" stroke="#111111" stroke-width="0.2" >1000</text>
<line x1="54.15" y1="186.14" x2="51.95" y2="187.24" stroke="#333333" stroke-width="1"/>
<text transform="translate(36.9 202.3) scale(1 1.07)" font-size="13" text-anchor="middle" font-weight="bold" fill="#111111" stroke="#111111" stroke-width="0.2" >200</text>
<line x1="90.57" y1="195.32" x2="88.37" y2="196.42" stroke="#333333" stroke-width="1"/>
<text transform="translate(73.8 211.2) scale(1 1.07)" font-size="13" text-anchor="middle" font-weight="bold" fill="#111111" stroke="#111111" stroke-width="0.2" >100</text>
<line x1="127" y1="204.5" x2="124.8" y2="205.6" stroke="#333333" stroke-width="1"/>
<text transform="translate(115.8 220.1) scale(1 1.07)" font-size="13" text-anchor="middle" font-weight="bold" fill="#111111" stroke="#111111" stroke-width="0.2" >0</text>
<line x1="127" y1="204.5" x2="129.6" y2="205.2" stroke="#333333" stroke-width="1"/>
<text transform="translate(137.7 218.8) scale(1 1.07)" font-size="13" text-anchor="middle" font-weight="bold" fill="#111111" stroke="#111111" stroke-width="0.2" >0</text>
<line x1="153.9" y1="191" x2="156.5" y2="191.7" stroke="#333333" stroke-width="1"/>
<text transform="translate(171.2 205.6) scale(1 1.07)" font-size="13" text-anchor="middle" font-weight="bold" fill="#111111" stroke="#111111" stroke-width="0.2" >100</text>
<line x1="180.8" y1="177.5" x2="183.4" y2="178.2" stroke="#333333" stroke-width="1"/>
<text transform="translate(198 192.1) scale(1 1.07)" font-size="13" text-anchor="middle" font-weight="bold" fill="#111111" stroke="#111111" stroke-width="0.2" >200</text>
<path d="M107.8 159.1 C107.45 158.27 106.65 156.33 105.7 154.1 C104.75 151.87 103.15 148.68 102.1 145.7 C101.05 142.72 99.98 139.35 99.4 136.2 C98.82 133.05 98.68 129.42 98.6 126.8 C98.52 124.18 98.5 123.13 98.9 120.5 C99.3 117.87 100.08 114 101 111 C101.92 108 102.97 105.2 104.4 102.5 C105.83 99.8 107.83 96.83 109.6 94.8 C111.37 92.77 113.4 91.5 115 90.3 C116.6 89.1 117.8 88.4 119.2 87.6 C120.6 86.8 122.08 86.02 123.4 85.5 C124.72 84.98 126.07 84.63 127.1 84.5 C128.13 84.37 129 84.5 129.6 84.7 C130.2 84.9 130.55 85.32 130.7 85.7 C130.85 86.08 130.75 86.62 130.5 87 C130.25 87.38 129.7 87.7 129.2 88 C128.7 88.3 127.78 88.67 127.5 88.8 " fill="none" stroke="#7d66bd" stroke-width="1.25" stroke-linejoin="round"/>
<path d="M126.5 86.5 L127.32 88.47 L129.45 88.64 L127.83 90.03 L128.32 92.11 L126.5 90.99 L124.68 92.11 L125.17 90.03 L123.55 88.64 L125.68 88.47 Z" fill="none" stroke="#5344a2" stroke-width="1.0" stroke-linejoin="miter"/>
<line x1="104.9" y1="159.6" x2="111.1" y2="159.6" stroke="#1e1e1e" stroke-width="1.3"/>
<line x1="105.81" y1="157.41" x2="110.19" y2="161.79" stroke="#1e1e1e" stroke-width="1.3"/>
<line x1="108" y1="156.5" x2="108" y2="162.7" stroke="#1e1e1e" stroke-width="1.3"/>
<line x1="110.19" y1="157.41" x2="105.81" y2="161.79" stroke="#1e1e1e" stroke-width="1.3"/>
<rect x="190" y="35.6" width="95.6" height="46" fill="#ffffff" stroke="#333333" stroke-width="1.1"/>
<line x1="193.4" y1="43.9" x2="224" y2="43.9" stroke="#8a76c6" stroke-width="1.3"/>
<text transform="translate(228 49) scale(1 1.07)" font-size="12" text-anchor="start" font-weight="bold" fill="#111111" stroke="#111111" stroke-width="0.2" >Trajectory</text>
<path d="M209.1 55.2 L210.08 57.55 L212.62 57.76 L210.68 59.41 L211.27 61.89 L209.1 60.56 L206.93 61.89 L207.52 59.41 L205.58 57.76 L208.12 57.55 Z" fill="none" stroke="#6153ad" stroke-width="1.0" stroke-linejoin="miter"/>
<text transform="translate(228 63.6) scale(1 1.07)" font-size="12" text-anchor="start" font-weight="bold" fill="#111111" stroke="#111111" stroke-width="0.2" >P1</text>
<line x1="206.1" y1="73.6" x2="212.1" y2="73.6" stroke="#222222" stroke-width="1.1"/>
<line x1="206.98" y1="71.48" x2="211.22" y2="75.72" stroke="#222222" stroke-width="1.1"/>
<line x1="209.1" y1="70.6" x2="209.1" y2="76.6" stroke="#222222" stroke-width="1.1"/>
<line x1="211.22" y1="71.48" x2="206.98" y2="75.72" stroke="#222222" stroke-width="1.1"/>
<text transform="translate(228 77.6) scale(1 1.07)" font-size="12" text-anchor="start" font-weight="bold" fill="#111111" stroke="#111111" stroke-width="0.2" >P2</text>
</svg>
</body></html>
